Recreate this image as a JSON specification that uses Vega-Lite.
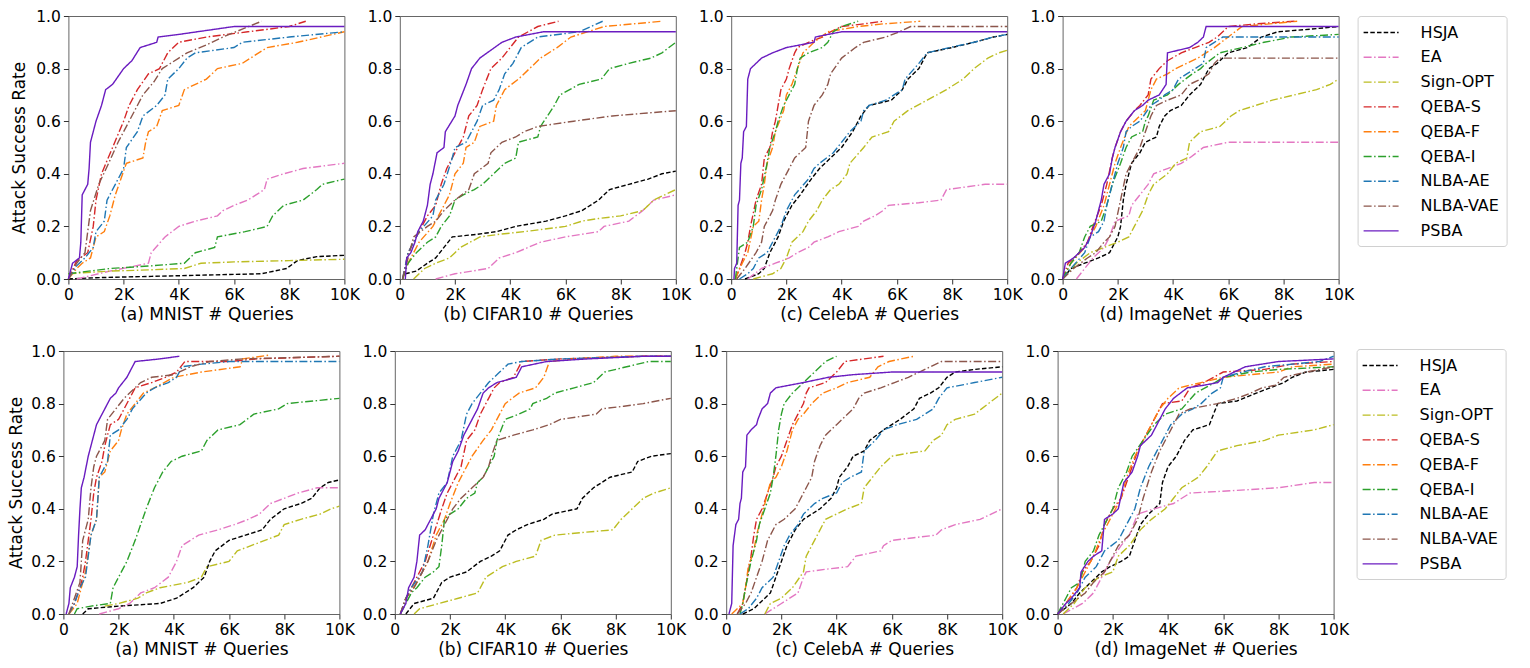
{
"$schema": "https://vega.github.io/schema/vega-lite/v6.json",
"background": "white",
"padding": {"left": 7, "top": 8, "right": 5, "bottom": 5},
"config": {
  "view": {"stroke": "#666", "strokeWidth": 1},
  "axis": {"labelFont": "DejaVu Sans", "labelFontSize": 15.5, "titleFont": "DejaVu Sans", "titleFontSize": 17, "titleFontWeight": "normal", "labelColor": "black", "titleColor": "black", "grid": false, "domain": false, "tickColor": "#333", "tickSize": 5, "labelPadding": 3, "labelFlush": false, "labelOverlap": false},
  "legend": {"title": null, "labelFont": "DejaVu Sans", "labelFontSize": 16, "labelColor": "black", "strokeColor": "#d0d0d0", "cornerRadius": 3, "fillColor": "white", "labelLimit": 300}
},
"datasets": {
"a1": [
{"m":"HSJA","q":0,"r":0},{"m":"HSJA","q":1,"r":0.005},{"m":"HSJA","q":3,"r":0.01},{"m":"HSJA","q":5,"r":0.015},{"m":"HSJA","q":7,"r":0.02},{"m":"HSJA","q":7.9,"r":0.04},{"m":"HSJA","q":8.3,"r":0.07},{"m":"HSJA","q":9,"r":0.085},{"m":"HSJA","q":10,"r":0.09},
{"m":"EA","q":0.3,"r":0},{"m":"EA","q":1.5,"r":0.03},{"m":"EA","q":2.9,"r":0.06},{"m":"EA","q":3,"r":0.1},{"m":"EA","q":3.5,"r":0.16},{"m":"EA","q":4,"r":0.2},{"m":"EA","q":4.6,"r":0.22},{"m":"EA","q":5.4,"r":0.24},{"m":"EA","q":5.6,"r":0.26},{"m":"EA","q":6,"r":0.28},{"m":"EA","q":6.5,"r":0.3},{"m":"EA","q":7.1,"r":0.34},{"m":"EA","q":7.2,"r":0.38},{"m":"EA","q":7.8,"r":0.4},{"m":"EA","q":8.5,"r":0.42},{"m":"EA","q":10,"r":0.44},
{"m":"Sign-OPT","q":0,"r":0.02},{"m":"Sign-OPT","q":1.5,"r":0.03},{"m":"Sign-OPT","q":3,"r":0.035},{"m":"Sign-OPT","q":4.2,"r":0.04},{"m":"Sign-OPT","q":4.8,"r":0.06},{"m":"Sign-OPT","q":6,"r":0.065},{"m":"Sign-OPT","q":8,"r":0.07},{"m":"Sign-OPT","q":10,"r":0.075},
{"m":"QEBA-S","q":0,"r":0},{"m":"QEBA-S","q":0.3,"r":0.07},{"m":"QEBA-S","q":0.7,"r":0.1},{"m":"QEBA-S","q":0.9,"r":0.2},{"m":"QEBA-S","q":1,"r":0.3},{"m":"QEBA-S","q":1.2,"r":0.4},{"m":"QEBA-S","q":1.6,"r":0.5},{"m":"QEBA-S","q":2,"r":0.6},{"m":"QEBA-S","q":2.2,"r":0.66},{"m":"QEBA-S","q":2.5,"r":0.72},{"m":"QEBA-S","q":2.9,"r":0.78},{"m":"QEBA-S","q":3.3,"r":0.8},{"m":"QEBA-S","q":3.6,"r":0.86},{"m":"QEBA-S","q":4,"r":0.9},{"m":"QEBA-S","q":5,"r":0.92},{"m":"QEBA-S","q":6.5,"r":0.94},{"m":"QEBA-S","q":8,"r":0.96},{"m":"QEBA-S","q":8.6,"r":0.98},
{"m":"QEBA-F","q":0,"r":0},{"m":"QEBA-F","q":0.3,"r":0.04},{"m":"QEBA-F","q":0.5,"r":0.06},{"m":"QEBA-F","q":0.8,"r":0.08},{"m":"QEBA-F","q":1,"r":0.16},{"m":"QEBA-F","q":1.3,"r":0.18},{"m":"QEBA-F","q":1.5,"r":0.24},{"m":"QEBA-F","q":1.7,"r":0.32},{"m":"QEBA-F","q":1.9,"r":0.38},{"m":"QEBA-F","q":2.1,"r":0.44},{"m":"QEBA-F","q":2.7,"r":0.46},{"m":"QEBA-F","q":2.8,"r":0.52},{"m":"QEBA-F","q":2.9,"r":0.56},{"m":"QEBA-F","q":3.2,"r":0.58},{"m":"QEBA-F","q":3.4,"r":0.64},{"m":"QEBA-F","q":4,"r":0.66},{"m":"QEBA-F","q":4.2,"r":0.72},{"m":"QEBA-F","q":4.6,"r":0.74},{"m":"QEBA-F","q":5,"r":0.76},{"m":"QEBA-F","q":5.4,"r":0.8},{"m":"QEBA-F","q":6.3,"r":0.82},{"m":"QEBA-F","q":6.6,"r":0.84},{"m":"QEBA-F","q":7.2,"r":0.88},{"m":"QEBA-F","q":8.3,"r":0.9},{"m":"QEBA-F","q":10,"r":0.94},
{"m":"QEBA-I","q":0,"r":0.02},{"m":"QEBA-I","q":1.5,"r":0.04},{"m":"QEBA-I","q":3,"r":0.05},{"m":"QEBA-I","q":4.2,"r":0.06},{"m":"QEBA-I","q":4.6,"r":0.1},{"m":"QEBA-I","q":5.3,"r":0.12},{"m":"QEBA-I","q":5.4,"r":0.16},{"m":"QEBA-I","q":6.4,"r":0.18},{"m":"QEBA-I","q":7.2,"r":0.2},{"m":"QEBA-I","q":7.4,"r":0.24},{"m":"QEBA-I","q":7.8,"r":0.28},{"m":"QEBA-I","q":8.5,"r":0.3},{"m":"QEBA-I","q":9,"r":0.34},{"m":"QEBA-I","q":9.2,"r":0.36},{"m":"QEBA-I","q":10,"r":0.38},
{"m":"NLBA-AE","q":0,"r":0},{"m":"NLBA-AE","q":0.3,"r":0.05},{"m":"NLBA-AE","q":0.6,"r":0.08},{"m":"NLBA-AE","q":0.9,"r":0.12},{"m":"NLBA-AE","q":1,"r":0.18},{"m":"NLBA-AE","q":1.3,"r":0.22},{"m":"NLBA-AE","q":1.4,"r":0.3},{"m":"NLBA-AE","q":1.7,"r":0.36},{"m":"NLBA-AE","q":2,"r":0.42},{"m":"NLBA-AE","q":2.1,"r":0.5},{"m":"NLBA-AE","q":2.5,"r":0.56},{"m":"NLBA-AE","q":2.7,"r":0.62},{"m":"NLBA-AE","q":3.2,"r":0.66},{"m":"NLBA-AE","q":3.5,"r":0.7},{"m":"NLBA-AE","q":3.6,"r":0.76},{"m":"NLBA-AE","q":4,"r":0.8},{"m":"NLBA-AE","q":4.3,"r":0.84},{"m":"NLBA-AE","q":4.6,"r":0.86},{"m":"NLBA-AE","q":6,"r":0.88},{"m":"NLBA-AE","q":6.3,"r":0.9},{"m":"NLBA-AE","q":8,"r":0.92},{"m":"NLBA-AE","q":10,"r":0.94},
{"m":"NLBA-VAE","q":0,"r":0},{"m":"NLBA-VAE","q":0.3,"r":0.06},{"m":"NLBA-VAE","q":0.6,"r":0.1},{"m":"NLBA-VAE","q":0.8,"r":0.26},{"m":"NLBA-VAE","q":1.1,"r":0.36},{"m":"NLBA-VAE","q":1.5,"r":0.45},{"m":"NLBA-VAE","q":1.8,"r":0.52},{"m":"NLBA-VAE","q":2.2,"r":0.6},{"m":"NLBA-VAE","q":2.7,"r":0.7},{"m":"NLBA-VAE","q":3.1,"r":0.75},{"m":"NLBA-VAE","q":3.4,"r":0.8},{"m":"NLBA-VAE","q":4,"r":0.84},{"m":"NLBA-VAE","q":4.3,"r":0.86},{"m":"NLBA-VAE","q":5,"r":0.89},{"m":"NLBA-VAE","q":5.6,"r":0.92},{"m":"NLBA-VAE","q":6.3,"r":0.95},{"m":"NLBA-VAE","q":7,"r":0.98},
{"m":"PSBA","q":0,"r":0},{"m":"PSBA","q":0.15,"r":0.06},{"m":"PSBA","q":0.4,"r":0.08},{"m":"PSBA","q":0.45,"r":0.14},{"m":"PSBA","q":0.5,"r":0.32},{"m":"PSBA","q":0.7,"r":0.36},{"m":"PSBA","q":0.75,"r":0.42},{"m":"PSBA","q":0.8,"r":0.52},{"m":"PSBA","q":0.9,"r":0.56},{"m":"PSBA","q":1,"r":0.6},{"m":"PSBA","q":1.2,"r":0.66},{"m":"PSBA","q":1.35,"r":0.72},{"m":"PSBA","q":1.6,"r":0.74},{"m":"PSBA","q":1.8,"r":0.77},{"m":"PSBA","q":2,"r":0.8},{"m":"PSBA","q":2.3,"r":0.83},{"m":"PSBA","q":2.6,"r":0.88},{"m":"PSBA","q":3.2,"r":0.9},{"m":"PSBA","q":3.25,"r":0.92},{"m":"PSBA","q":4,"r":0.93},{"m":"PSBA","q":6,"r":0.96},{"m":"PSBA","q":10,"r":0.96}
],
"b1": [
{"m":"HSJA","q":0.2,"r":0.02},{"m":"HSJA","q":0.6,"r":0.03},{"m":"HSJA","q":1,"r":0.06},{"m":"HSJA","q":1.3,"r":0.08},{"m":"HSJA","q":1.6,"r":0.12},{"m":"HSJA","q":1.9,"r":0.16},{"m":"HSJA","q":2.8,"r":0.17},{"m":"HSJA","q":3.5,"r":0.18},{"m":"HSJA","q":4.2,"r":0.2},{"m":"HSJA","q":5.3,"r":0.22},{"m":"HSJA","q":6,"r":0.24},{"m":"HSJA","q":6.6,"r":0.26},{"m":"HSJA","q":7.2,"r":0.3},{"m":"HSJA","q":7.6,"r":0.34},{"m":"HSJA","q":8.3,"r":0.36},{"m":"HSJA","q":9,"r":0.38},{"m":"HSJA","q":9.5,"r":0.4},{"m":"HSJA","q":10,"r":0.41},
{"m":"EA","q":1.3,"r":0},{"m":"EA","q":2,"r":0.02},{"m":"EA","q":3.2,"r":0.04},{"m":"EA","q":3.6,"r":0.08},{"m":"EA","q":4.2,"r":0.1},{"m":"EA","q":5.1,"r":0.14},{"m":"EA","q":6,"r":0.16},{"m":"EA","q":7.2,"r":0.18},{"m":"EA","q":7.4,"r":0.2},{"m":"EA","q":8.3,"r":0.22},{"m":"EA","q":8.8,"r":0.26},{"m":"EA","q":9.2,"r":0.3},{"m":"EA","q":10,"r":0.32},
{"m":"Sign-OPT","q":0.5,"r":0},{"m":"Sign-OPT","q":0.9,"r":0.04},{"m":"Sign-OPT","q":1.3,"r":0.06},{"m":"Sign-OPT","q":1.8,"r":0.08},{"m":"Sign-OPT","q":2,"r":0.1},{"m":"Sign-OPT","q":2.2,"r":0.12},{"m":"Sign-OPT","q":2.9,"r":0.16},{"m":"Sign-OPT","q":3.6,"r":0.17},{"m":"Sign-OPT","q":4.5,"r":0.18},{"m":"Sign-OPT","q":6,"r":0.2},{"m":"Sign-OPT","q":6.6,"r":0.22},{"m":"Sign-OPT","q":7.2,"r":0.23},{"m":"Sign-OPT","q":8,"r":0.24},{"m":"Sign-OPT","q":8.8,"r":0.26},{"m":"Sign-OPT","q":9.2,"r":0.3},{"m":"Sign-OPT","q":9.6,"r":0.32},{"m":"Sign-OPT","q":10,"r":0.34},
{"m":"QEBA-S","q":0.1,"r":0},{"m":"QEBA-S","q":0.3,"r":0.1},{"m":"QEBA-S","q":0.8,"r":0.2},{"m":"QEBA-S","q":1,"r":0.24},{"m":"QEBA-S","q":1.3,"r":0.28},{"m":"QEBA-S","q":1.5,"r":0.36},{"m":"QEBA-S","q":1.7,"r":0.42},{"m":"QEBA-S","q":2.1,"r":0.5},{"m":"QEBA-S","q":2.3,"r":0.54},{"m":"QEBA-S","q":2.5,"r":0.62},{"m":"QEBA-S","q":2.8,"r":0.66},{"m":"QEBA-S","q":3,"r":0.72},{"m":"QEBA-S","q":3.3,"r":0.8},{"m":"QEBA-S","q":3.7,"r":0.84},{"m":"QEBA-S","q":4,"r":0.88},{"m":"QEBA-S","q":4.3,"r":0.92},{"m":"QEBA-S","q":5,"r":0.96},{"m":"QEBA-S","q":5.75,"r":0.98},
{"m":"QEBA-F","q":0.1,"r":0},{"m":"QEBA-F","q":0.3,"r":0.06},{"m":"QEBA-F","q":0.7,"r":0.14},{"m":"QEBA-F","q":1.2,"r":0.2},{"m":"QEBA-F","q":1.5,"r":0.26},{"m":"QEBA-F","q":1.8,"r":0.32},{"m":"QEBA-F","q":2,"r":0.4},{"m":"QEBA-F","q":2.3,"r":0.44},{"m":"QEBA-F","q":2.4,"r":0.5},{"m":"QEBA-F","q":2.7,"r":0.52},{"m":"QEBA-F","q":2.9,"r":0.58},{"m":"QEBA-F","q":3.4,"r":0.6},{"m":"QEBA-F","q":3.5,"r":0.66},{"m":"QEBA-F","q":3.8,"r":0.72},{"m":"QEBA-F","q":4.3,"r":0.76},{"m":"QEBA-F","q":4.7,"r":0.8},{"m":"QEBA-F","q":5.1,"r":0.84},{"m":"QEBA-F","q":5.7,"r":0.88},{"m":"QEBA-F","q":6.2,"r":0.92},{"m":"QEBA-F","q":7.4,"r":0.96},{"m":"QEBA-F","q":9.5,"r":0.98},
{"m":"QEBA-I","q":0.1,"r":0},{"m":"QEBA-I","q":0.3,"r":0.06},{"m":"QEBA-I","q":0.6,"r":0.1},{"m":"QEBA-I","q":0.8,"r":0.12},{"m":"QEBA-I","q":1,"r":0.14},{"m":"QEBA-I","q":1.3,"r":0.16},{"m":"QEBA-I","q":1.5,"r":0.2},{"m":"QEBA-I","q":1.8,"r":0.24},{"m":"QEBA-I","q":2,"r":0.3},{"m":"QEBA-I","q":2.3,"r":0.32},{"m":"QEBA-I","q":2.7,"r":0.34},{"m":"QEBA-I","q":3,"r":0.36},{"m":"QEBA-I","q":3.4,"r":0.4},{"m":"QEBA-I","q":3.8,"r":0.44},{"m":"QEBA-I","q":4.2,"r":0.46},{"m":"QEBA-I","q":4.3,"r":0.52},{"m":"QEBA-I","q":5,"r":0.54},{"m":"QEBA-I","q":5.1,"r":0.58},{"m":"QEBA-I","q":5.6,"r":0.66},{"m":"QEBA-I","q":5.8,"r":0.7},{"m":"QEBA-I","q":6.5,"r":0.74},{"m":"QEBA-I","q":7.3,"r":0.76},{"m":"QEBA-I","q":7.6,"r":0.8},{"m":"QEBA-I","q":8.3,"r":0.82},{"m":"QEBA-I","q":9.1,"r":0.84},{"m":"QEBA-I","q":9.5,"r":0.86},{"m":"QEBA-I","q":10,"r":0.9},
{"m":"NLBA-AE","q":0.1,"r":0},{"m":"NLBA-AE","q":0.3,"r":0.1},{"m":"NLBA-AE","q":0.7,"r":0.18},{"m":"NLBA-AE","q":1.2,"r":0.24},{"m":"NLBA-AE","q":1.3,"r":0.3},{"m":"NLBA-AE","q":1.6,"r":0.36},{"m":"NLBA-AE","q":1.9,"r":0.46},{"m":"NLBA-AE","q":2,"r":0.5},{"m":"NLBA-AE","q":2.4,"r":0.52},{"m":"NLBA-AE","q":2.6,"r":0.56},{"m":"NLBA-AE","q":2.8,"r":0.6},{"m":"NLBA-AE","q":3,"r":0.66},{"m":"NLBA-AE","q":3.4,"r":0.68},{"m":"NLBA-AE","q":3.6,"r":0.72},{"m":"NLBA-AE","q":3.8,"r":0.78},{"m":"NLBA-AE","q":4.1,"r":0.82},{"m":"NLBA-AE","q":4.4,"r":0.88},{"m":"NLBA-AE","q":5,"r":0.92},{"m":"NLBA-AE","q":6.5,"r":0.94},{"m":"NLBA-AE","q":7.35,"r":0.98},
{"m":"NLBA-VAE","q":0.1,"r":0},{"m":"NLBA-VAE","q":0.3,"r":0.08},{"m":"NLBA-VAE","q":0.5,"r":0.16},{"m":"NLBA-VAE","q":1,"r":0.2},{"m":"NLBA-VAE","q":1.3,"r":0.22},{"m":"NLBA-VAE","q":1.6,"r":0.26},{"m":"NLBA-VAE","q":2,"r":0.3},{"m":"NLBA-VAE","q":2.5,"r":0.34},{"m":"NLBA-VAE","q":2.7,"r":0.4},{"m":"NLBA-VAE","q":3.2,"r":0.44},{"m":"NLBA-VAE","q":3.3,"r":0.48},{"m":"NLBA-VAE","q":3.7,"r":0.52},{"m":"NLBA-VAE","q":4.2,"r":0.54},{"m":"NLBA-VAE","q":4.5,"r":0.56},{"m":"NLBA-VAE","q":5,"r":0.58},{"m":"NLBA-VAE","q":6.3,"r":0.6},{"m":"NLBA-VAE","q":7.7,"r":0.62},{"m":"NLBA-VAE","q":10,"r":0.64},
{"m":"PSBA","q":0.2,"r":0},{"m":"PSBA","q":0.25,"r":0.08},{"m":"PSBA","q":0.4,"r":0.1},{"m":"PSBA","q":0.55,"r":0.14},{"m":"PSBA","q":0.65,"r":0.18},{"m":"PSBA","q":0.85,"r":0.22},{"m":"PSBA","q":1,"r":0.28},{"m":"PSBA","q":1.1,"r":0.36},{"m":"PSBA","q":1.2,"r":0.4},{"m":"PSBA","q":1.35,"r":0.48},{"m":"PSBA","q":1.6,"r":0.5},{"m":"PSBA","q":1.65,"r":0.56},{"m":"PSBA","q":2,"r":0.62},{"m":"PSBA","q":2.1,"r":0.66},{"m":"PSBA","q":2.4,"r":0.74},{"m":"PSBA","q":2.6,"r":0.8},{"m":"PSBA","q":2.9,"r":0.84},{"m":"PSBA","q":3.7,"r":0.9},{"m":"PSBA","q":4.2,"r":0.92},{"m":"PSBA","q":5.2,"r":0.94},{"m":"PSBA","q":10,"r":0.94}
],
"c1": [
{"m":"HSJA","q":0.5,"r":0},{"m":"HSJA","q":1,"r":0.02},{"m":"HSJA","q":1.2,"r":0.04},{"m":"HSJA","q":1.4,"r":0.1},{"m":"HSJA","q":1.7,"r":0.16},{"m":"HSJA","q":1.9,"r":0.22},{"m":"HSJA","q":2.2,"r":0.28},{"m":"HSJA","q":2.5,"r":0.32},{"m":"HSJA","q":2.9,"r":0.38},{"m":"HSJA","q":3.2,"r":0.42},{"m":"HSJA","q":3.6,"r":0.46},{"m":"HSJA","q":4,"r":0.5},{"m":"HSJA","q":4.4,"r":0.56},{"m":"HSJA","q":4.7,"r":0.62},{"m":"HSJA","q":5,"r":0.66},{"m":"HSJA","q":5.8,"r":0.68},{"m":"HSJA","q":6.2,"r":0.72},{"m":"HSJA","q":6.4,"r":0.76},{"m":"HSJA","q":6.8,"r":0.8},{"m":"HSJA","q":7.1,"r":0.86},{"m":"HSJA","q":8,"r":0.88},{"m":"HSJA","q":8.8,"r":0.9},{"m":"HSJA","q":9.5,"r":0.92},{"m":"HSJA","q":10,"r":0.93},
{"m":"EA","q":0.6,"r":0},{"m":"EA","q":1.1,"r":0.04},{"m":"EA","q":1.6,"r":0.06},{"m":"EA","q":2.1,"r":0.08},{"m":"EA","q":2.4,"r":0.1},{"m":"EA","q":2.8,"r":0.12},{"m":"EA","q":3,"r":0.14},{"m":"EA","q":3.5,"r":0.16},{"m":"EA","q":3.9,"r":0.18},{"m":"EA","q":4.6,"r":0.2},{"m":"EA","q":4.8,"r":0.22},{"m":"EA","q":5.2,"r":0.24},{"m":"EA","q":5.5,"r":0.26},{"m":"EA","q":5.7,"r":0.28},{"m":"EA","q":6.8,"r":0.29},{"m":"EA","q":7.6,"r":0.3},{"m":"EA","q":7.8,"r":0.34},{"m":"EA","q":8.5,"r":0.35},{"m":"EA","q":9.2,"r":0.36},{"m":"EA","q":10,"r":0.36},
{"m":"Sign-OPT","q":0.8,"r":0},{"m":"Sign-OPT","q":1.5,"r":0.02},{"m":"Sign-OPT","q":1.8,"r":0.04},{"m":"Sign-OPT","q":2,"r":0.08},{"m":"Sign-OPT","q":2.2,"r":0.14},{"m":"Sign-OPT","q":2.6,"r":0.18},{"m":"Sign-OPT","q":2.8,"r":0.22},{"m":"Sign-OPT","q":3.1,"r":0.26},{"m":"Sign-OPT","q":3.3,"r":0.3},{"m":"Sign-OPT","q":3.6,"r":0.34},{"m":"Sign-OPT","q":3.9,"r":0.36},{"m":"Sign-OPT","q":4.2,"r":0.4},{"m":"Sign-OPT","q":4.3,"r":0.44},{"m":"Sign-OPT","q":4.8,"r":0.5},{"m":"Sign-OPT","q":5.1,"r":0.54},{"m":"Sign-OPT","q":5.7,"r":0.56},{"m":"Sign-OPT","q":5.9,"r":0.6},{"m":"Sign-OPT","q":6.4,"r":0.64},{"m":"Sign-OPT","q":7.1,"r":0.68},{"m":"Sign-OPT","q":7.8,"r":0.72},{"m":"Sign-OPT","q":8.4,"r":0.76},{"m":"Sign-OPT","q":8.8,"r":0.8},{"m":"Sign-OPT","q":9.3,"r":0.84},{"m":"Sign-OPT","q":9.7,"r":0.86},{"m":"Sign-OPT","q":10,"r":0.87},
{"m":"QEBA-S","q":0.15,"r":0},{"m":"QEBA-S","q":0.3,"r":0.04},{"m":"QEBA-S","q":0.5,"r":0.1},{"m":"QEBA-S","q":0.6,"r":0.14},{"m":"QEBA-S","q":0.7,"r":0.2},{"m":"QEBA-S","q":0.9,"r":0.3},{"m":"QEBA-S","q":1.1,"r":0.36},{"m":"QEBA-S","q":1.2,"r":0.46},{"m":"QEBA-S","q":1.4,"r":0.5},{"m":"QEBA-S","q":1.5,"r":0.56},{"m":"QEBA-S","q":1.6,"r":0.6},{"m":"QEBA-S","q":1.7,"r":0.66},{"m":"QEBA-S","q":1.8,"r":0.72},{"m":"QEBA-S","q":2,"r":0.76},{"m":"QEBA-S","q":2.1,"r":0.8},{"m":"QEBA-S","q":2.3,"r":0.86},{"m":"QEBA-S","q":2.4,"r":0.88},{"m":"QEBA-S","q":2.8,"r":0.9},{"m":"QEBA-S","q":3.3,"r":0.92},{"m":"QEBA-S","q":3.6,"r":0.94},{"m":"QEBA-S","q":4,"r":0.96},{"m":"QEBA-S","q":4.8,"r":0.97},{"m":"QEBA-S","q":5.5,"r":0.98},
{"m":"QEBA-F","q":0.15,"r":0},{"m":"QEBA-F","q":0.4,"r":0.06},{"m":"QEBA-F","q":0.6,"r":0.1},{"m":"QEBA-F","q":0.8,"r":0.2},{"m":"QEBA-F","q":1,"r":0.22},{"m":"QEBA-F","q":1.1,"r":0.3},{"m":"QEBA-F","q":1.2,"r":0.36},{"m":"QEBA-F","q":1.3,"r":0.44},{"m":"QEBA-F","q":1.5,"r":0.5},{"m":"QEBA-F","q":1.6,"r":0.56},{"m":"QEBA-F","q":1.9,"r":0.64},{"m":"QEBA-F","q":2,"r":0.7},{"m":"QEBA-F","q":2.2,"r":0.74},{"m":"QEBA-F","q":2.4,"r":0.8},{"m":"QEBA-F","q":2.6,"r":0.86},{"m":"QEBA-F","q":3,"r":0.9},{"m":"QEBA-F","q":3.5,"r":0.94},{"m":"QEBA-F","q":4.6,"r":0.96},{"m":"QEBA-F","q":5.5,"r":0.97},{"m":"QEBA-F","q":6.85,"r":0.98},
{"m":"QEBA-I","q":0.15,"r":0},{"m":"QEBA-I","q":0.3,"r":0.12},{"m":"QEBA-I","q":0.6,"r":0.14},{"m":"QEBA-I","q":0.8,"r":0.2},{"m":"QEBA-I","q":0.9,"r":0.28},{"m":"QEBA-I","q":1.1,"r":0.34},{"m":"QEBA-I","q":1.3,"r":0.44},{"m":"QEBA-I","q":1.4,"r":0.5},{"m":"QEBA-I","q":1.6,"r":0.56},{"m":"QEBA-I","q":1.7,"r":0.6},{"m":"QEBA-I","q":1.9,"r":0.66},{"m":"QEBA-I","q":2.1,"r":0.7},{"m":"QEBA-I","q":2.3,"r":0.74},{"m":"QEBA-I","q":2.4,"r":0.8},{"m":"QEBA-I","q":2.5,"r":0.84},{"m":"QEBA-I","q":2.8,"r":0.86},{"m":"QEBA-I","q":3.3,"r":0.88},{"m":"QEBA-I","q":3.5,"r":0.9},{"m":"QEBA-I","q":3.7,"r":0.94},{"m":"QEBA-I","q":4,"r":0.96},{"m":"QEBA-I","q":4.6,"r":0.98},
{"m":"NLBA-AE","q":0.3,"r":0},{"m":"NLBA-AE","q":0.6,"r":0.02},{"m":"NLBA-AE","q":0.8,"r":0.04},{"m":"NLBA-AE","q":1,"r":0.08},{"m":"NLBA-AE","q":1.3,"r":0.1},{"m":"NLBA-AE","q":1.6,"r":0.16},{"m":"NLBA-AE","q":1.8,"r":0.2},{"m":"NLBA-AE","q":2,"r":0.26},{"m":"NLBA-AE","q":2.3,"r":0.32},{"m":"NLBA-AE","q":2.8,"r":0.38},{"m":"NLBA-AE","q":3,"r":0.42},{"m":"NLBA-AE","q":3.2,"r":0.44},{"m":"NLBA-AE","q":3.7,"r":0.48},{"m":"NLBA-AE","q":4,"r":0.52},{"m":"NLBA-AE","q":4.3,"r":0.56},{"m":"NLBA-AE","q":4.7,"r":0.6},{"m":"NLBA-AE","q":4.8,"r":0.64},{"m":"NLBA-AE","q":5,"r":0.66},{"m":"NLBA-AE","q":5.6,"r":0.68},{"m":"NLBA-AE","q":5.9,"r":0.7},{"m":"NLBA-AE","q":6.2,"r":0.72},{"m":"NLBA-AE","q":6.3,"r":0.76},{"m":"NLBA-AE","q":6.8,"r":0.82},{"m":"NLBA-AE","q":7.1,"r":0.86},{"m":"NLBA-AE","q":7.9,"r":0.88},{"m":"NLBA-AE","q":8.8,"r":0.9},{"m":"NLBA-AE","q":9.5,"r":0.92},{"m":"NLBA-AE","q":10,"r":0.93},
{"m":"NLBA-VAE","q":0.2,"r":0},{"m":"NLBA-VAE","q":0.5,"r":0.04},{"m":"NLBA-VAE","q":0.9,"r":0.1},{"m":"NLBA-VAE","q":1.1,"r":0.14},{"m":"NLBA-VAE","q":1.2,"r":0.2},{"m":"NLBA-VAE","q":1.5,"r":0.26},{"m":"NLBA-VAE","q":1.6,"r":0.3},{"m":"NLBA-VAE","q":1.8,"r":0.36},{"m":"NLBA-VAE","q":2,"r":0.4},{"m":"NLBA-VAE","q":2.3,"r":0.46},{"m":"NLBA-VAE","q":2.7,"r":0.5},{"m":"NLBA-VAE","q":2.8,"r":0.6},{"m":"NLBA-VAE","q":3,"r":0.66},{"m":"NLBA-VAE","q":3.3,"r":0.7},{"m":"NLBA-VAE","q":3.5,"r":0.74},{"m":"NLBA-VAE","q":3.6,"r":0.78},{"m":"NLBA-VAE","q":4,"r":0.84},{"m":"NLBA-VAE","q":4.5,"r":0.88},{"m":"NLBA-VAE","q":4.8,"r":0.9},{"m":"NLBA-VAE","q":5.6,"r":0.92},{"m":"NLBA-VAE","q":6.1,"r":0.94},{"m":"NLBA-VAE","q":6.5,"r":0.96},{"m":"NLBA-VAE","q":10,"r":0.96},
{"m":"PSBA","q":0.1,"r":0},{"m":"PSBA","q":0.12,"r":0.04},{"m":"PSBA","q":0.2,"r":0.06},{"m":"PSBA","q":0.25,"r":0.28},{"m":"PSBA","q":0.3,"r":0.3},{"m":"PSBA","q":0.35,"r":0.44},{"m":"PSBA","q":0.4,"r":0.46},{"m":"PSBA","q":0.45,"r":0.56},{"m":"PSBA","q":0.55,"r":0.58},{"m":"PSBA","q":0.6,"r":0.76},{"m":"PSBA","q":0.7,"r":0.8},{"m":"PSBA","q":0.9,"r":0.82},{"m":"PSBA","q":1.1,"r":0.84},{"m":"PSBA","q":1.5,"r":0.86},{"m":"PSBA","q":2,"r":0.88},{"m":"PSBA","q":2.5,"r":0.89},{"m":"PSBA","q":3,"r":0.9},{"m":"PSBA","q":3.05,"r":0.92},{"m":"PSBA","q":3.5,"r":0.93},{"m":"PSBA","q":4,"r":0.94},{"m":"PSBA","q":10,"r":0.94}
],
"d1": [
{"m":"HSJA","q":0,"r":0},{"m":"HSJA","q":0.3,"r":0.04},{"m":"HSJA","q":0.8,"r":0.06},{"m":"HSJA","q":1.3,"r":0.08},{"m":"HSJA","q":1.7,"r":0.1},{"m":"HSJA","q":2,"r":0.16},{"m":"HSJA","q":2.1,"r":0.2},{"m":"HSJA","q":2.2,"r":0.3},{"m":"HSJA","q":2.3,"r":0.36},{"m":"HSJA","q":2.5,"r":0.44},{"m":"HSJA","q":2.8,"r":0.48},{"m":"HSJA","q":3,"r":0.52},{"m":"HSJA","q":3.4,"r":0.54},{"m":"HSJA","q":3.5,"r":0.58},{"m":"HSJA","q":3.7,"r":0.62},{"m":"HSJA","q":3.9,"r":0.64},{"m":"HSJA","q":4.3,"r":0.66},{"m":"HSJA","q":4.6,"r":0.7},{"m":"HSJA","q":5,"r":0.74},{"m":"HSJA","q":5.3,"r":0.8},{"m":"HSJA","q":5.6,"r":0.82},{"m":"HSJA","q":6,"r":0.86},{"m":"HSJA","q":6.7,"r":0.88},{"m":"HSJA","q":7.2,"r":0.92},{"m":"HSJA","q":7.8,"r":0.94},{"m":"HSJA","q":9,"r":0.95},{"m":"HSJA","q":10,"r":0.96},
{"m":"EA","q":0.5,"r":0},{"m":"EA","q":0.8,"r":0.04},{"m":"EA","q":1.1,"r":0.08},{"m":"EA","q":1.5,"r":0.12},{"m":"EA","q":1.7,"r":0.16},{"m":"EA","q":1.9,"r":0.22},{"m":"EA","q":2.4,"r":0.24},{"m":"EA","q":2.5,"r":0.28},{"m":"EA","q":2.8,"r":0.32},{"m":"EA","q":3.1,"r":0.36},{"m":"EA","q":3.3,"r":0.4},{"m":"EA","q":3.8,"r":0.42},{"m":"EA","q":4.3,"r":0.44},{"m":"EA","q":4.6,"r":0.46},{"m":"EA","q":5.1,"r":0.5},{"m":"EA","q":6,"r":0.52},{"m":"EA","q":10,"r":0.52},
{"m":"Sign-OPT","q":0,"r":0},{"m":"Sign-OPT","q":0.5,"r":0.06},{"m":"Sign-OPT","q":1,"r":0.1},{"m":"Sign-OPT","q":1.5,"r":0.12},{"m":"Sign-OPT","q":2,"r":0.14},{"m":"Sign-OPT","q":2.4,"r":0.16},{"m":"Sign-OPT","q":2.6,"r":0.2},{"m":"Sign-OPT","q":2.9,"r":0.26},{"m":"Sign-OPT","q":3.1,"r":0.32},{"m":"Sign-OPT","q":3.3,"r":0.36},{"m":"Sign-OPT","q":3.8,"r":0.4},{"m":"Sign-OPT","q":4.1,"r":0.44},{"m":"Sign-OPT","q":4.5,"r":0.46},{"m":"Sign-OPT","q":4.6,"r":0.52},{"m":"Sign-OPT","q":5,"r":0.56},{"m":"Sign-OPT","q":5.7,"r":0.58},{"m":"Sign-OPT","q":6.1,"r":0.62},{"m":"Sign-OPT","q":6.4,"r":0.64},{"m":"Sign-OPT","q":7,"r":0.66},{"m":"Sign-OPT","q":7.6,"r":0.68},{"m":"Sign-OPT","q":8.4,"r":0.7},{"m":"Sign-OPT","q":9.2,"r":0.72},{"m":"Sign-OPT","q":9.7,"r":0.74},{"m":"Sign-OPT","q":10,"r":0.76},
{"m":"QEBA-S","q":0,"r":0},{"m":"QEBA-S","q":0.2,"r":0.06},{"m":"QEBA-S","q":0.6,"r":0.1},{"m":"QEBA-S","q":0.9,"r":0.14},{"m":"QEBA-S","q":1.1,"r":0.2},{"m":"QEBA-S","q":1.4,"r":0.28},{"m":"QEBA-S","q":1.6,"r":0.36},{"m":"QEBA-S","q":1.8,"r":0.46},{"m":"QEBA-S","q":1.9,"r":0.5},{"m":"QEBA-S","q":2.1,"r":0.56},{"m":"QEBA-S","q":2.3,"r":0.6},{"m":"QEBA-S","q":2.6,"r":0.64},{"m":"QEBA-S","q":2.8,"r":0.66},{"m":"QEBA-S","q":3.1,"r":0.7},{"m":"QEBA-S","q":3.2,"r":0.76},{"m":"QEBA-S","q":3.5,"r":0.8},{"m":"QEBA-S","q":3.8,"r":0.83},{"m":"QEBA-S","q":4.3,"r":0.86},{"m":"QEBA-S","q":4.8,"r":0.88},{"m":"QEBA-S","q":5.3,"r":0.9},{"m":"QEBA-S","q":5.6,"r":0.92},{"m":"QEBA-S","q":6,"r":0.96},{"m":"QEBA-S","q":7,"r":0.97},{"m":"QEBA-S","q":8.4,"r":0.98},
{"m":"QEBA-F","q":0,"r":0},{"m":"QEBA-F","q":0.3,"r":0.06},{"m":"QEBA-F","q":0.8,"r":0.12},{"m":"QEBA-F","q":1,"r":0.16},{"m":"QEBA-F","q":1.2,"r":0.2},{"m":"QEBA-F","q":1.5,"r":0.28},{"m":"QEBA-F","q":1.7,"r":0.36},{"m":"QEBA-F","q":1.9,"r":0.44},{"m":"QEBA-F","q":2.1,"r":0.5},{"m":"QEBA-F","q":2.4,"r":0.58},{"m":"QEBA-F","q":2.6,"r":0.6},{"m":"QEBA-F","q":3,"r":0.64},{"m":"QEBA-F","q":3.2,"r":0.72},{"m":"QEBA-F","q":3.4,"r":0.76},{"m":"QEBA-F","q":3.8,"r":0.78},{"m":"QEBA-F","q":4.1,"r":0.8},{"m":"QEBA-F","q":4.5,"r":0.82},{"m":"QEBA-F","q":4.9,"r":0.84},{"m":"QEBA-F","q":5.2,"r":0.86},{"m":"QEBA-F","q":5.5,"r":0.88},{"m":"QEBA-F","q":6,"r":0.92},{"m":"QEBA-F","q":6.5,"r":0.96},{"m":"QEBA-F","q":7.5,"r":0.97},{"m":"QEBA-F","q":8.5,"r":0.98},
{"m":"QEBA-I","q":0,"r":0},{"m":"QEBA-I","q":0.3,"r":0.06},{"m":"QEBA-I","q":0.6,"r":0.1},{"m":"QEBA-I","q":0.8,"r":0.16},{"m":"QEBA-I","q":1,"r":0.2},{"m":"QEBA-I","q":1.4,"r":0.22},{"m":"QEBA-I","q":1.6,"r":0.28},{"m":"QEBA-I","q":1.8,"r":0.36},{"m":"QEBA-I","q":2.1,"r":0.44},{"m":"QEBA-I","q":2.3,"r":0.5},{"m":"QEBA-I","q":2.5,"r":0.54},{"m":"QEBA-I","q":2.9,"r":0.56},{"m":"QEBA-I","q":3,"r":0.6},{"m":"QEBA-I","q":3.1,"r":0.62},{"m":"QEBA-I","q":3.3,"r":0.68},{"m":"QEBA-I","q":3.8,"r":0.7},{"m":"QEBA-I","q":4.2,"r":0.74},{"m":"QEBA-I","q":4.7,"r":0.78},{"m":"QEBA-I","q":5,"r":0.8},{"m":"QEBA-I","q":5.2,"r":0.82},{"m":"QEBA-I","q":5.7,"r":0.86},{"m":"QEBA-I","q":6.5,"r":0.88},{"m":"QEBA-I","q":7.3,"r":0.9},{"m":"QEBA-I","q":8.3,"r":0.92},{"m":"QEBA-I","q":10,"r":0.93},
{"m":"NLBA-AE","q":0,"r":0},{"m":"NLBA-AE","q":0.3,"r":0.04},{"m":"NLBA-AE","q":0.8,"r":0.1},{"m":"NLBA-AE","q":1,"r":0.16},{"m":"NLBA-AE","q":1.3,"r":0.18},{"m":"NLBA-AE","q":1.5,"r":0.22},{"m":"NLBA-AE","q":1.6,"r":0.28},{"m":"NLBA-AE","q":1.8,"r":0.36},{"m":"NLBA-AE","q":2,"r":0.44},{"m":"NLBA-AE","q":2.2,"r":0.5},{"m":"NLBA-AE","q":2.3,"r":0.56},{"m":"NLBA-AE","q":2.5,"r":0.58},{"m":"NLBA-AE","q":2.8,"r":0.6},{"m":"NLBA-AE","q":3.2,"r":0.66},{"m":"NLBA-AE","q":3.5,"r":0.68},{"m":"NLBA-AE","q":3.7,"r":0.7},{"m":"NLBA-AE","q":4,"r":0.72},{"m":"NLBA-AE","q":4.2,"r":0.76},{"m":"NLBA-AE","q":4.5,"r":0.78},{"m":"NLBA-AE","q":4.8,"r":0.8},{"m":"NLBA-AE","q":5.1,"r":0.82},{"m":"NLBA-AE","q":5.2,"r":0.88},{"m":"NLBA-AE","q":5.5,"r":0.9},{"m":"NLBA-AE","q":5.8,"r":0.92},{"m":"NLBA-AE","q":10,"r":0.92},
{"m":"NLBA-VAE","q":0,"r":0},{"m":"NLBA-VAE","q":0.4,"r":0.04},{"m":"NLBA-VAE","q":0.9,"r":0.08},{"m":"NLBA-VAE","q":1.2,"r":0.1},{"m":"NLBA-VAE","q":1.5,"r":0.14},{"m":"NLBA-VAE","q":1.7,"r":0.16},{"m":"NLBA-VAE","q":1.9,"r":0.2},{"m":"NLBA-VAE","q":2.1,"r":0.3},{"m":"NLBA-VAE","q":2.3,"r":0.4},{"m":"NLBA-VAE","q":2.5,"r":0.44},{"m":"NLBA-VAE","q":2.8,"r":0.5},{"m":"NLBA-VAE","q":3,"r":0.56},{"m":"NLBA-VAE","q":3.2,"r":0.62},{"m":"NLBA-VAE","q":3.4,"r":0.66},{"m":"NLBA-VAE","q":3.8,"r":0.68},{"m":"NLBA-VAE","q":4.3,"r":0.7},{"m":"NLBA-VAE","q":4.6,"r":0.74},{"m":"NLBA-VAE","q":5,"r":0.76},{"m":"NLBA-VAE","q":5.3,"r":0.78},{"m":"NLBA-VAE","q":5.5,"r":0.82},{"m":"NLBA-VAE","q":5.7,"r":0.84},{"m":"NLBA-VAE","q":10,"r":0.84},
{"m":"PSBA","q":0,"r":0},{"m":"PSBA","q":0.1,"r":0.06},{"m":"PSBA","q":0.4,"r":0.08},{"m":"PSBA","q":0.6,"r":0.1},{"m":"PSBA","q":0.8,"r":0.12},{"m":"PSBA","q":1,"r":0.16},{"m":"PSBA","q":1.2,"r":0.22},{"m":"PSBA","q":1.3,"r":0.26},{"m":"PSBA","q":1.4,"r":0.3},{"m":"PSBA","q":1.5,"r":0.36},{"m":"PSBA","q":1.7,"r":0.4},{"m":"PSBA","q":1.8,"r":0.46},{"m":"PSBA","q":1.9,"r":0.5},{"m":"PSBA","q":2.1,"r":0.56},{"m":"PSBA","q":2.3,"r":0.6},{"m":"PSBA","q":2.6,"r":0.64},{"m":"PSBA","q":2.9,"r":0.66},{"m":"PSBA","q":3.1,"r":0.68},{"m":"PSBA","q":3.5,"r":0.7},{"m":"PSBA","q":3.75,"r":0.74},{"m":"PSBA","q":3.8,"r":0.86},{"m":"PSBA","q":4.2,"r":0.87},{"m":"PSBA","q":4.6,"r":0.88},{"m":"PSBA","q":4.9,"r":0.9},{"m":"PSBA","q":5.1,"r":0.92},{"m":"PSBA","q":5.2,"r":0.96},{"m":"PSBA","q":10,"r":0.96}
],
"a2": [
{"m":"HSJA","q":0.7,"r":0},{"m":"HSJA","q":0.9,"r":0.02},{"m":"HSJA","q":2,"r":0.03},{"m":"HSJA","q":3.5,"r":0.04},{"m":"HSJA","q":4.1,"r":0.06},{"m":"HSJA","q":4.7,"r":0.1},{"m":"HSJA","q":5.1,"r":0.14},{"m":"HSJA","q":5.3,"r":0.2},{"m":"HSJA","q":5.5,"r":0.24},{"m":"HSJA","q":6,"r":0.28},{"m":"HSJA","q":6.6,"r":0.3},{"m":"HSJA","q":7.2,"r":0.32},{"m":"HSJA","q":7.5,"r":0.36},{"m":"HSJA","q":8,"r":0.4},{"m":"HSJA","q":8.6,"r":0.42},{"m":"HSJA","q":9,"r":0.44},{"m":"HSJA","q":9.3,"r":0.48},{"m":"HSJA","q":9.6,"r":0.5},{"m":"HSJA","q":10,"r":0.51},
{"m":"EA","q":1.3,"r":0},{"m":"EA","q":2,"r":0.02},{"m":"EA","q":2.4,"r":0.04},{"m":"EA","q":2.8,"r":0.08},{"m":"EA","q":3.3,"r":0.1},{"m":"EA","q":3.8,"r":0.14},{"m":"EA","q":4.1,"r":0.2},{"m":"EA","q":4.3,"r":0.26},{"m":"EA","q":4.9,"r":0.3},{"m":"EA","q":5.6,"r":0.32},{"m":"EA","q":6.2,"r":0.34},{"m":"EA","q":6.7,"r":0.36},{"m":"EA","q":7.1,"r":0.38},{"m":"EA","q":7.5,"r":0.42},{"m":"EA","q":8,"r":0.44},{"m":"EA","q":8.5,"r":0.46},{"m":"EA","q":9.2,"r":0.48},{"m":"EA","q":10,"r":0.48},
{"m":"Sign-OPT","q":1.5,"r":0.03},{"m":"Sign-OPT","q":2,"r":0.04},{"m":"Sign-OPT","q":2.7,"r":0.06},{"m":"Sign-OPT","q":3,"r":0.08},{"m":"Sign-OPT","q":3.5,"r":0.1},{"m":"Sign-OPT","q":4.5,"r":0.12},{"m":"Sign-OPT","q":5,"r":0.14},{"m":"Sign-OPT","q":5.2,"r":0.18},{"m":"Sign-OPT","q":6,"r":0.2},{"m":"Sign-OPT","q":6.3,"r":0.24},{"m":"Sign-OPT","q":6.8,"r":0.26},{"m":"Sign-OPT","q":7.3,"r":0.28},{"m":"Sign-OPT","q":7.8,"r":0.3},{"m":"Sign-OPT","q":8,"r":0.34},{"m":"Sign-OPT","q":8.6,"r":0.36},{"m":"Sign-OPT","q":9.3,"r":0.38},{"m":"Sign-OPT","q":9.7,"r":0.4},{"m":"Sign-OPT","q":10,"r":0.41},
{"m":"QEBA-S","q":0.2,"r":0},{"m":"QEBA-S","q":0.4,"r":0.04},{"m":"QEBA-S","q":0.6,"r":0.1},{"m":"QEBA-S","q":0.7,"r":0.14},{"m":"QEBA-S","q":0.8,"r":0.2},{"m":"QEBA-S","q":0.9,"r":0.28},{"m":"QEBA-S","q":1,"r":0.36},{"m":"QEBA-S","q":1.1,"r":0.46},{"m":"QEBA-S","q":1.2,"r":0.52},{"m":"QEBA-S","q":1.4,"r":0.58},{"m":"QEBA-S","q":1.5,"r":0.64},{"m":"QEBA-S","q":1.6,"r":0.68},{"m":"QEBA-S","q":1.7,"r":0.72},{"m":"QEBA-S","q":2,"r":0.74},{"m":"QEBA-S","q":2.2,"r":0.78},{"m":"QEBA-S","q":2.4,"r":0.82},{"m":"QEBA-S","q":2.6,"r":0.86},{"m":"QEBA-S","q":3.2,"r":0.88},{"m":"QEBA-S","q":3.7,"r":0.9},{"m":"QEBA-S","q":4.1,"r":0.92},{"m":"QEBA-S","q":4.4,"r":0.96},{"m":"QEBA-S","q":6,"r":0.96},{"m":"QEBA-S","q":7,"r":0.97},{"m":"QEBA-S","q":10,"r":0.98},
{"m":"QEBA-F","q":0.2,"r":0},{"m":"QEBA-F","q":0.5,"r":0.04},{"m":"QEBA-F","q":0.6,"r":0.08},{"m":"QEBA-F","q":0.8,"r":0.16},{"m":"QEBA-F","q":1,"r":0.3},{"m":"QEBA-F","q":1.2,"r":0.36},{"m":"QEBA-F","q":1.3,"r":0.52},{"m":"QEBA-F","q":1.5,"r":0.54},{"m":"QEBA-F","q":1.7,"r":0.62},{"m":"QEBA-F","q":2,"r":0.66},{"m":"QEBA-F","q":2.1,"r":0.7},{"m":"QEBA-F","q":2.3,"r":0.76},{"m":"QEBA-F","q":2.6,"r":0.8},{"m":"QEBA-F","q":2.9,"r":0.84},{"m":"QEBA-F","q":3.3,"r":0.86},{"m":"QEBA-F","q":4,"r":0.9},{"m":"QEBA-F","q":5,"r":0.92},{"m":"QEBA-F","q":6.4,"r":0.94},{"m":"QEBA-F","q":6.5,"r":0.97},{"m":"QEBA-F","q":7.5,"r":0.985},
{"m":"QEBA-I","q":0.4,"r":0},{"m":"QEBA-I","q":0.5,"r":0.02},{"m":"QEBA-I","q":1,"r":0.03},{"m":"QEBA-I","q":1.7,"r":0.04},{"m":"QEBA-I","q":1.8,"r":0.1},{"m":"QEBA-I","q":2.1,"r":0.16},{"m":"QEBA-I","q":2.3,"r":0.2},{"m":"QEBA-I","q":2.6,"r":0.28},{"m":"QEBA-I","q":2.8,"r":0.34},{"m":"QEBA-I","q":3,"r":0.4},{"m":"QEBA-I","q":3.3,"r":0.48},{"m":"QEBA-I","q":3.6,"r":0.54},{"m":"QEBA-I","q":3.9,"r":0.58},{"m":"QEBA-I","q":4.3,"r":0.6},{"m":"QEBA-I","q":5,"r":0.62},{"m":"QEBA-I","q":5.2,"r":0.66},{"m":"QEBA-I","q":5.6,"r":0.7},{"m":"QEBA-I","q":6.4,"r":0.72},{"m":"QEBA-I","q":6.9,"r":0.76},{"m":"QEBA-I","q":7.8,"r":0.78},{"m":"QEBA-I","q":8.1,"r":0.8},{"m":"QEBA-I","q":10,"r":0.82},
{"m":"NLBA-AE","q":0.2,"r":0},{"m":"NLBA-AE","q":0.4,"r":0.04},{"m":"NLBA-AE","q":0.6,"r":0.1},{"m":"NLBA-AE","q":0.8,"r":0.14},{"m":"NLBA-AE","q":0.9,"r":0.22},{"m":"NLBA-AE","q":1,"r":0.3},{"m":"NLBA-AE","q":1.2,"r":0.36},{"m":"NLBA-AE","q":1.3,"r":0.52},{"m":"NLBA-AE","q":1.6,"r":0.58},{"m":"NLBA-AE","q":1.7,"r":0.68},{"m":"NLBA-AE","q":2,"r":0.7},{"m":"NLBA-AE","q":2.3,"r":0.74},{"m":"NLBA-AE","q":2.5,"r":0.78},{"m":"NLBA-AE","q":3,"r":0.84},{"m":"NLBA-AE","q":3.3,"r":0.86},{"m":"NLBA-AE","q":3.8,"r":0.88},{"m":"NLBA-AE","q":4.1,"r":0.9},{"m":"NLBA-AE","q":4.3,"r":0.94},{"m":"NLBA-AE","q":5,"r":0.95},{"m":"NLBA-AE","q":6,"r":0.96},{"m":"NLBA-AE","q":10,"r":0.96},
{"m":"NLBA-VAE","q":0.2,"r":0},{"m":"NLBA-VAE","q":0.4,"r":0.06},{"m":"NLBA-VAE","q":0.6,"r":0.12},{"m":"NLBA-VAE","q":0.7,"r":0.28},{"m":"NLBA-VAE","q":0.9,"r":0.36},{"m":"NLBA-VAE","q":1,"r":0.48},{"m":"NLBA-VAE","q":1.1,"r":0.56},{"m":"NLBA-VAE","q":1.2,"r":0.6},{"m":"NLBA-VAE","q":1.5,"r":0.66},{"m":"NLBA-VAE","q":1.6,"r":0.74},{"m":"NLBA-VAE","q":1.9,"r":0.78},{"m":"NLBA-VAE","q":2.2,"r":0.82},{"m":"NLBA-VAE","q":2.6,"r":0.86},{"m":"NLBA-VAE","q":2.8,"r":0.88},{"m":"NLBA-VAE","q":3.2,"r":0.9},{"m":"NLBA-VAE","q":4,"r":0.91},{"m":"NLBA-VAE","q":4.6,"r":0.94},{"m":"NLBA-VAE","q":5.3,"r":0.96},{"m":"NLBA-VAE","q":6.5,"r":0.97},{"m":"NLBA-VAE","q":10,"r":0.98},
{"m":"PSBA","q":0.1,"r":0},{"m":"PSBA","q":0.2,"r":0.04},{"m":"PSBA","q":0.25,"r":0.1},{"m":"PSBA","q":0.4,"r":0.14},{"m":"PSBA","q":0.5,"r":0.18},{"m":"PSBA","q":0.55,"r":0.3},{"m":"PSBA","q":0.6,"r":0.4},{"m":"PSBA","q":0.65,"r":0.48},{"m":"PSBA","q":0.75,"r":0.52},{"m":"PSBA","q":0.9,"r":0.6},{"m":"PSBA","q":1,"r":0.64},{"m":"PSBA","q":1.1,"r":0.68},{"m":"PSBA","q":1.2,"r":0.72},{"m":"PSBA","q":1.4,"r":0.76},{"m":"PSBA","q":1.6,"r":0.8},{"m":"PSBA","q":1.7,"r":0.82},{"m":"PSBA","q":1.9,"r":0.84},{"m":"PSBA","q":2,"r":0.86},{"m":"PSBA","q":2.3,"r":0.9},{"m":"PSBA","q":2.5,"r":0.94},{"m":"PSBA","q":2.6,"r":0.96},{"m":"PSBA","q":3.5,"r":0.97},{"m":"PSBA","q":4.2,"r":0.98}
],
"b2": [
{"m":"HSJA","q":0.4,"r":0},{"m":"HSJA","q":0.7,"r":0.04},{"m":"HSJA","q":1.4,"r":0.06},{"m":"HSJA","q":1.7,"r":0.12},{"m":"HSJA","q":2,"r":0.14},{"m":"HSJA","q":2.6,"r":0.16},{"m":"HSJA","q":3.1,"r":0.2},{"m":"HSJA","q":3.5,"r":0.22},{"m":"HSJA","q":3.8,"r":0.24},{"m":"HSJA","q":4.1,"r":0.3},{"m":"HSJA","q":4.4,"r":0.32},{"m":"HSJA","q":4.8,"r":0.34},{"m":"HSJA","q":5.4,"r":0.36},{"m":"HSJA","q":5.7,"r":0.38},{"m":"HSJA","q":6.6,"r":0.4},{"m":"HSJA","q":6.8,"r":0.44},{"m":"HSJA","q":7.2,"r":0.48},{"m":"HSJA","q":7.8,"r":0.52},{"m":"HSJA","q":8.6,"r":0.54},{"m":"HSJA","q":8.8,"r":0.58},{"m":"HSJA","q":9.3,"r":0.6},{"m":"HSJA","q":10,"r":0.61},
{"m":"Sign-OPT","q":0.7,"r":0},{"m":"Sign-OPT","q":0.9,"r":0.02},{"m":"Sign-OPT","q":1.6,"r":0.04},{"m":"Sign-OPT","q":2.3,"r":0.06},{"m":"Sign-OPT","q":3,"r":0.08},{"m":"Sign-OPT","q":3.3,"r":0.14},{"m":"Sign-OPT","q":3.9,"r":0.18},{"m":"Sign-OPT","q":4.4,"r":0.2},{"m":"Sign-OPT","q":5.1,"r":0.22},{"m":"Sign-OPT","q":5.3,"r":0.28},{"m":"Sign-OPT","q":5.8,"r":0.3},{"m":"Sign-OPT","q":6.8,"r":0.31},{"m":"Sign-OPT","q":7.9,"r":0.32},{"m":"Sign-OPT","q":8.2,"r":0.36},{"m":"Sign-OPT","q":8.6,"r":0.4},{"m":"Sign-OPT","q":9,"r":0.44},{"m":"Sign-OPT","q":9.4,"r":0.46},{"m":"Sign-OPT","q":10,"r":0.48},
{"m":"QEBA-S","q":0.2,"r":0},{"m":"QEBA-S","q":0.4,"r":0.06},{"m":"QEBA-S","q":0.6,"r":0.1},{"m":"QEBA-S","q":0.8,"r":0.14},{"m":"QEBA-S","q":1.1,"r":0.2},{"m":"QEBA-S","q":1.4,"r":0.3},{"m":"QEBA-S","q":1.7,"r":0.4},{"m":"QEBA-S","q":1.9,"r":0.46},{"m":"QEBA-S","q":2.1,"r":0.5},{"m":"QEBA-S","q":2.4,"r":0.56},{"m":"QEBA-S","q":2.6,"r":0.66},{"m":"QEBA-S","q":2.9,"r":0.7},{"m":"QEBA-S","q":3.1,"r":0.76},{"m":"QEBA-S","q":3.4,"r":0.82},{"m":"QEBA-S","q":3.6,"r":0.86},{"m":"QEBA-S","q":3.8,"r":0.88},{"m":"QEBA-S","q":4.3,"r":0.9},{"m":"QEBA-S","q":4.6,"r":0.96},{"m":"QEBA-S","q":6,"r":0.97},{"m":"QEBA-S","q":9,"r":0.98},{"m":"QEBA-S","q":10,"r":0.98},
{"m":"QEBA-F","q":0.2,"r":0},{"m":"QEBA-F","q":0.4,"r":0.06},{"m":"QEBA-F","q":0.8,"r":0.12},{"m":"QEBA-F","q":1.2,"r":0.2},{"m":"QEBA-F","q":1.5,"r":0.3},{"m":"QEBA-F","q":1.8,"r":0.36},{"m":"QEBA-F","q":2,"r":0.42},{"m":"QEBA-F","q":2.3,"r":0.5},{"m":"QEBA-F","q":2.6,"r":0.56},{"m":"QEBA-F","q":2.8,"r":0.6},{"m":"QEBA-F","q":3.2,"r":0.66},{"m":"QEBA-F","q":3.5,"r":0.7},{"m":"QEBA-F","q":3.7,"r":0.74},{"m":"QEBA-F","q":4,"r":0.8},{"m":"QEBA-F","q":4.5,"r":0.84},{"m":"QEBA-F","q":5.1,"r":0.86},{"m":"QEBA-F","q":5.4,"r":0.9},{"m":"QEBA-F","q":5.6,"r":0.96},{"m":"QEBA-F","q":6.5,"r":0.97},{"m":"QEBA-F","q":8,"r":0.98},{"m":"QEBA-F","q":10,"r":0.98},
{"m":"QEBA-I","q":0.2,"r":0},{"m":"QEBA-I","q":0.4,"r":0.04},{"m":"QEBA-I","q":0.6,"r":0.08},{"m":"QEBA-I","q":0.8,"r":0.1},{"m":"QEBA-I","q":1.1,"r":0.14},{"m":"QEBA-I","q":1.4,"r":0.16},{"m":"QEBA-I","q":1.6,"r":0.18},{"m":"QEBA-I","q":1.7,"r":0.26},{"m":"QEBA-I","q":1.8,"r":0.36},{"m":"QEBA-I","q":2,"r":0.38},{"m":"QEBA-I","q":2.3,"r":0.4},{"m":"QEBA-I","q":2.6,"r":0.44},{"m":"QEBA-I","q":2.9,"r":0.46},{"m":"QEBA-I","q":3,"r":0.5},{"m":"QEBA-I","q":3.2,"r":0.52},{"m":"QEBA-I","q":3.6,"r":0.6},{"m":"QEBA-I","q":3.7,"r":0.66},{"m":"QEBA-I","q":4,"r":0.74},{"m":"QEBA-I","q":4.5,"r":0.76},{"m":"QEBA-I","q":4.9,"r":0.78},{"m":"QEBA-I","q":5,"r":0.8},{"m":"QEBA-I","q":5.5,"r":0.82},{"m":"QEBA-I","q":5.8,"r":0.84},{"m":"QEBA-I","q":6.5,"r":0.86},{"m":"QEBA-I","q":7.2,"r":0.88},{"m":"QEBA-I","q":7.6,"r":0.92},{"m":"QEBA-I","q":8.4,"r":0.94},{"m":"QEBA-I","q":9.2,"r":0.96},{"m":"QEBA-I","q":10,"r":0.96},
{"m":"NLBA-AE","q":0.2,"r":0},{"m":"NLBA-AE","q":0.4,"r":0.06},{"m":"NLBA-AE","q":0.6,"r":0.1},{"m":"NLBA-AE","q":1,"r":0.16},{"m":"NLBA-AE","q":1.2,"r":0.26},{"m":"NLBA-AE","q":1.4,"r":0.38},{"m":"NLBA-AE","q":1.6,"r":0.46},{"m":"NLBA-AE","q":1.9,"r":0.5},{"m":"NLBA-AE","q":2.1,"r":0.6},{"m":"NLBA-AE","q":2.4,"r":0.66},{"m":"NLBA-AE","q":2.6,"r":0.76},{"m":"NLBA-AE","q":2.8,"r":0.8},{"m":"NLBA-AE","q":3.1,"r":0.84},{"m":"NLBA-AE","q":3.4,"r":0.88},{"m":"NLBA-AE","q":3.8,"r":0.92},{"m":"NLBA-AE","q":4.1,"r":0.95},{"m":"NLBA-AE","q":4.6,"r":0.96},{"m":"NLBA-AE","q":6,"r":0.97},{"m":"NLBA-AE","q":9,"r":0.98},{"m":"NLBA-AE","q":10,"r":0.98},
{"m":"NLBA-VAE","q":0.2,"r":0},{"m":"NLBA-VAE","q":0.4,"r":0.06},{"m":"NLBA-VAE","q":0.7,"r":0.1},{"m":"NLBA-VAE","q":1,"r":0.16},{"m":"NLBA-VAE","q":1.2,"r":0.2},{"m":"NLBA-VAE","q":1.5,"r":0.28},{"m":"NLBA-VAE","q":1.8,"r":0.34},{"m":"NLBA-VAE","q":2.1,"r":0.4},{"m":"NLBA-VAE","q":2.4,"r":0.44},{"m":"NLBA-VAE","q":2.8,"r":0.48},{"m":"NLBA-VAE","q":3.2,"r":0.52},{"m":"NLBA-VAE","q":3.4,"r":0.56},{"m":"NLBA-VAE","q":3.5,"r":0.6},{"m":"NLBA-VAE","q":3.7,"r":0.66},{"m":"NLBA-VAE","q":4.3,"r":0.68},{"m":"NLBA-VAE","q":5,"r":0.7},{"m":"NLBA-VAE","q":5.6,"r":0.72},{"m":"NLBA-VAE","q":6,"r":0.74},{"m":"NLBA-VAE","q":7.3,"r":0.76},{"m":"NLBA-VAE","q":7.5,"r":0.78},{"m":"NLBA-VAE","q":8.3,"r":0.79},{"m":"NLBA-VAE","q":9,"r":0.8},{"m":"NLBA-VAE","q":10,"r":0.82},
{"m":"PSBA","q":0.2,"r":0},{"m":"PSBA","q":0.4,"r":0.04},{"m":"PSBA","q":0.5,"r":0.1},{"m":"PSBA","q":0.7,"r":0.14},{"m":"PSBA","q":0.8,"r":0.2},{"m":"PSBA","q":0.9,"r":0.3},{"m":"PSBA","q":1.1,"r":0.32},{"m":"PSBA","q":1.3,"r":0.36},{"m":"PSBA","q":1.5,"r":0.4},{"m":"PSBA","q":1.6,"r":0.44},{"m":"PSBA","q":1.9,"r":0.5},{"m":"PSBA","q":2.1,"r":0.58},{"m":"PSBA","q":2.3,"r":0.62},{"m":"PSBA","q":2.5,"r":0.68},{"m":"PSBA","q":2.8,"r":0.74},{"m":"PSBA","q":3,"r":0.78},{"m":"PSBA","q":3.2,"r":0.84},{"m":"PSBA","q":3.4,"r":0.86},{"m":"PSBA","q":3.7,"r":0.88},{"m":"PSBA","q":4.4,"r":0.9},{"m":"PSBA","q":4.6,"r":0.94},{"m":"PSBA","q":5.5,"r":0.96},{"m":"PSBA","q":7,"r":0.97},{"m":"PSBA","q":9,"r":0.98},{"m":"PSBA","q":10,"r":0.98}
],
"c2": [
{"m":"HSJA","q":0.6,"r":0},{"m":"HSJA","q":1,"r":0.02},{"m":"HSJA","q":1.2,"r":0.04},{"m":"HSJA","q":1.6,"r":0.08},{"m":"HSJA","q":1.8,"r":0.14},{"m":"HSJA","q":2,"r":0.2},{"m":"HSJA","q":2.2,"r":0.26},{"m":"HSJA","q":2.5,"r":0.32},{"m":"HSJA","q":2.8,"r":0.36},{"m":"HSJA","q":3.1,"r":0.38},{"m":"HSJA","q":3.4,"r":0.4},{"m":"HSJA","q":3.8,"r":0.44},{"m":"HSJA","q":4,"r":0.48},{"m":"HSJA","q":4.1,"r":0.52},{"m":"HSJA","q":4.4,"r":0.56},{"m":"HSJA","q":4.6,"r":0.6},{"m":"HSJA","q":5,"r":0.62},{"m":"HSJA","q":5.2,"r":0.66},{"m":"HSJA","q":5.7,"r":0.7},{"m":"HSJA","q":6,"r":0.72},{"m":"HSJA","q":6.3,"r":0.74},{"m":"HSJA","q":6.8,"r":0.78},{"m":"HSJA","q":7,"r":0.82},{"m":"HSJA","q":7.4,"r":0.84},{"m":"HSJA","q":7.7,"r":0.86},{"m":"HSJA","q":8,"r":0.9},{"m":"HSJA","q":8.3,"r":0.92},{"m":"HSJA","q":9,"r":0.93},{"m":"HSJA","q":10,"r":0.94},
{"m":"EA","q":1.4,"r":0},{"m":"EA","q":2,"r":0.04},{"m":"EA","q":2.6,"r":0.08},{"m":"EA","q":2.8,"r":0.14},{"m":"EA","q":2.9,"r":0.16},{"m":"EA","q":3.6,"r":0.17},{"m":"EA","q":4.4,"r":0.18},{"m":"EA","q":4.7,"r":0.22},{"m":"EA","q":5.6,"r":0.24},{"m":"EA","q":5.7,"r":0.26},{"m":"EA","q":6,"r":0.28},{"m":"EA","q":6.8,"r":0.29},{"m":"EA","q":7.6,"r":0.3},{"m":"EA","q":7.8,"r":0.32},{"m":"EA","q":8.3,"r":0.34},{"m":"EA","q":9.2,"r":0.36},{"m":"EA","q":9.6,"r":0.38},{"m":"EA","q":10,"r":0.4},
{"m":"Sign-OPT","q":1.4,"r":0},{"m":"Sign-OPT","q":1.6,"r":0.04},{"m":"Sign-OPT","q":2,"r":0.06},{"m":"Sign-OPT","q":2.4,"r":0.1},{"m":"Sign-OPT","q":2.8,"r":0.16},{"m":"Sign-OPT","q":2.9,"r":0.22},{"m":"Sign-OPT","q":3.2,"r":0.28},{"m":"Sign-OPT","q":3.4,"r":0.32},{"m":"Sign-OPT","q":3.6,"r":0.36},{"m":"Sign-OPT","q":4,"r":0.38},{"m":"Sign-OPT","q":4.4,"r":0.4},{"m":"Sign-OPT","q":4.9,"r":0.42},{"m":"Sign-OPT","q":5,"r":0.48},{"m":"Sign-OPT","q":5.3,"r":0.52},{"m":"Sign-OPT","q":5.6,"r":0.56},{"m":"Sign-OPT","q":6,"r":0.6},{"m":"Sign-OPT","q":6.5,"r":0.61},{"m":"Sign-OPT","q":7.2,"r":0.62},{"m":"Sign-OPT","q":7.5,"r":0.66},{"m":"Sign-OPT","q":7.8,"r":0.68},{"m":"Sign-OPT","q":8,"r":0.72},{"m":"Sign-OPT","q":8.3,"r":0.74},{"m":"Sign-OPT","q":9,"r":0.76},{"m":"Sign-OPT","q":9.5,"r":0.8},{"m":"Sign-OPT","q":10,"r":0.84},
{"m":"QEBA-S","q":0.4,"r":0},{"m":"QEBA-S","q":0.6,"r":0.04},{"m":"QEBA-S","q":0.7,"r":0.1},{"m":"QEBA-S","q":0.8,"r":0.16},{"m":"QEBA-S","q":0.9,"r":0.22},{"m":"QEBA-S","q":1,"r":0.3},{"m":"QEBA-S","q":1.1,"r":0.36},{"m":"QEBA-S","q":1.3,"r":0.4},{"m":"QEBA-S","q":1.5,"r":0.46},{"m":"QEBA-S","q":1.7,"r":0.52},{"m":"QEBA-S","q":1.8,"r":0.56},{"m":"QEBA-S","q":2,"r":0.6},{"m":"QEBA-S","q":2.2,"r":0.66},{"m":"QEBA-S","q":2.4,"r":0.72},{"m":"QEBA-S","q":2.6,"r":0.76},{"m":"QEBA-S","q":2.8,"r":0.8},{"m":"QEBA-S","q":2.9,"r":0.84},{"m":"QEBA-S","q":3,"r":0.86},{"m":"QEBA-S","q":3.6,"r":0.88},{"m":"QEBA-S","q":3.8,"r":0.9},{"m":"QEBA-S","q":4,"r":0.92},{"m":"QEBA-S","q":4.3,"r":0.96},{"m":"QEBA-S","q":5,"r":0.97},{"m":"QEBA-S","q":5.7,"r":0.98},
{"m":"QEBA-F","q":0.2,"r":0},{"m":"QEBA-F","q":0.4,"r":0.02},{"m":"QEBA-F","q":0.6,"r":0.04},{"m":"QEBA-F","q":0.7,"r":0.1},{"m":"QEBA-F","q":0.8,"r":0.18},{"m":"QEBA-F","q":1,"r":0.24},{"m":"QEBA-F","q":1.1,"r":0.3},{"m":"QEBA-F","q":1.3,"r":0.38},{"m":"QEBA-F","q":1.5,"r":0.46},{"m":"QEBA-F","q":1.6,"r":0.5},{"m":"QEBA-F","q":1.8,"r":0.52},{"m":"QEBA-F","q":2,"r":0.56},{"m":"QEBA-F","q":2.2,"r":0.62},{"m":"QEBA-F","q":2.4,"r":0.7},{"m":"QEBA-F","q":2.6,"r":0.74},{"m":"QEBA-F","q":2.8,"r":0.76},{"m":"QEBA-F","q":3.1,"r":0.8},{"m":"QEBA-F","q":3.5,"r":0.84},{"m":"QEBA-F","q":4,"r":0.86},{"m":"QEBA-F","q":4.4,"r":0.88},{"m":"QEBA-F","q":5.2,"r":0.9},{"m":"QEBA-F","q":5.5,"r":0.94},{"m":"QEBA-F","q":5.9,"r":0.96},{"m":"QEBA-F","q":6.8,"r":0.98},
{"m":"QEBA-I","q":0.5,"r":0},{"m":"QEBA-I","q":0.6,"r":0.04},{"m":"QEBA-I","q":0.7,"r":0.1},{"m":"QEBA-I","q":0.9,"r":0.2},{"m":"QEBA-I","q":1.1,"r":0.28},{"m":"QEBA-I","q":1.2,"r":0.34},{"m":"QEBA-I","q":1.4,"r":0.4},{"m":"QEBA-I","q":1.6,"r":0.46},{"m":"QEBA-I","q":1.7,"r":0.52},{"m":"QEBA-I","q":1.8,"r":0.6},{"m":"QEBA-I","q":1.9,"r":0.7},{"m":"QEBA-I","q":2,"r":0.76},{"m":"QEBA-I","q":2.1,"r":0.8},{"m":"QEBA-I","q":2.4,"r":0.84},{"m":"QEBA-I","q":2.8,"r":0.88},{"m":"QEBA-I","q":3,"r":0.9},{"m":"QEBA-I","q":3.4,"r":0.94},{"m":"QEBA-I","q":3.6,"r":0.96},{"m":"QEBA-I","q":4,"r":0.98},
{"m":"NLBA-AE","q":0.5,"r":0},{"m":"NLBA-AE","q":0.8,"r":0.02},{"m":"NLBA-AE","q":1.1,"r":0.06},{"m":"NLBA-AE","q":1.3,"r":0.1},{"m":"NLBA-AE","q":1.5,"r":0.12},{"m":"NLBA-AE","q":1.7,"r":0.14},{"m":"NLBA-AE","q":1.9,"r":0.2},{"m":"NLBA-AE","q":2.1,"r":0.26},{"m":"NLBA-AE","q":2.3,"r":0.3},{"m":"NLBA-AE","q":2.6,"r":0.34},{"m":"NLBA-AE","q":2.8,"r":0.38},{"m":"NLBA-AE","q":3,"r":0.4},{"m":"NLBA-AE","q":3.2,"r":0.42},{"m":"NLBA-AE","q":3.5,"r":0.44},{"m":"NLBA-AE","q":4,"r":0.46},{"m":"NLBA-AE","q":4.2,"r":0.5},{"m":"NLBA-AE","q":4.5,"r":0.52},{"m":"NLBA-AE","q":4.9,"r":0.54},{"m":"NLBA-AE","q":5,"r":0.62},{"m":"NLBA-AE","q":5.4,"r":0.66},{"m":"NLBA-AE","q":5.7,"r":0.7},{"m":"NLBA-AE","q":6.2,"r":0.72},{"m":"NLBA-AE","q":6.9,"r":0.74},{"m":"NLBA-AE","q":7.5,"r":0.78},{"m":"NLBA-AE","q":7.7,"r":0.82},{"m":"NLBA-AE","q":8,"r":0.86},{"m":"NLBA-AE","q":9,"r":0.88},{"m":"NLBA-AE","q":10,"r":0.9},
{"m":"NLBA-VAE","q":0.4,"r":0},{"m":"NLBA-VAE","q":0.7,"r":0.04},{"m":"NLBA-VAE","q":0.9,"r":0.08},{"m":"NLBA-VAE","q":1.1,"r":0.14},{"m":"NLBA-VAE","q":1.3,"r":0.2},{"m":"NLBA-VAE","q":1.5,"r":0.28},{"m":"NLBA-VAE","q":1.8,"r":0.34},{"m":"NLBA-VAE","q":2.1,"r":0.36},{"m":"NLBA-VAE","q":2.5,"r":0.4},{"m":"NLBA-VAE","q":2.7,"r":0.44},{"m":"NLBA-VAE","q":2.9,"r":0.48},{"m":"NLBA-VAE","q":3.1,"r":0.52},{"m":"NLBA-VAE","q":3.2,"r":0.58},{"m":"NLBA-VAE","q":3.4,"r":0.64},{"m":"NLBA-VAE","q":3.6,"r":0.68},{"m":"NLBA-VAE","q":4,"r":0.72},{"m":"NLBA-VAE","q":4.2,"r":0.74},{"m":"NLBA-VAE","q":4.6,"r":0.78},{"m":"NLBA-VAE","q":4.8,"r":0.82},{"m":"NLBA-VAE","q":5,"r":0.84},{"m":"NLBA-VAE","q":5.6,"r":0.86},{"m":"NLBA-VAE","q":6.1,"r":0.88},{"m":"NLBA-VAE","q":6.6,"r":0.9},{"m":"NLBA-VAE","q":7,"r":0.92},{"m":"NLBA-VAE","q":7.4,"r":0.94},{"m":"NLBA-VAE","q":7.8,"r":0.96},{"m":"NLBA-VAE","q":10,"r":0.96},
{"m":"PSBA","q":0.1,"r":0},{"m":"PSBA","q":0.15,"r":0.02},{"m":"PSBA","q":0.2,"r":0.04},{"m":"PSBA","q":0.25,"r":0.26},{"m":"PSBA","q":0.35,"r":0.34},{"m":"PSBA","q":0.45,"r":0.36},{"m":"PSBA","q":0.5,"r":0.42},{"m":"PSBA","q":0.55,"r":0.44},{"m":"PSBA","q":0.6,"r":0.54},{"m":"PSBA","q":0.7,"r":0.56},{"m":"PSBA","q":0.75,"r":0.68},{"m":"PSBA","q":0.9,"r":0.7},{"m":"PSBA","q":1.1,"r":0.72},{"m":"PSBA","q":1.15,"r":0.74},{"m":"PSBA","q":1.3,"r":0.78},{"m":"PSBA","q":1.5,"r":0.8},{"m":"PSBA","q":1.6,"r":0.84},{"m":"PSBA","q":1.8,"r":0.86},{"m":"PSBA","q":2.8,"r":0.88},{"m":"PSBA","q":3.7,"r":0.9},{"m":"PSBA","q":4.6,"r":0.91},{"m":"PSBA","q":6,"r":0.92},{"m":"PSBA","q":10,"r":0.92}
],
"d2": [
{"m":"HSJA","q":0,"r":0},{"m":"HSJA","q":0.5,"r":0.04},{"m":"HSJA","q":0.8,"r":0.08},{"m":"HSJA","q":1.2,"r":0.12},{"m":"HSJA","q":1.6,"r":0.16},{"m":"HSJA","q":1.9,"r":0.18},{"m":"HSJA","q":2.3,"r":0.2},{"m":"HSJA","q":2.6,"r":0.22},{"m":"HSJA","q":2.8,"r":0.28},{"m":"HSJA","q":3,"r":0.34},{"m":"HSJA","q":3.3,"r":0.38},{"m":"HSJA","q":3.7,"r":0.42},{"m":"HSJA","q":3.8,"r":0.5},{"m":"HSJA","q":4,"r":0.56},{"m":"HSJA","q":4.3,"r":0.6},{"m":"HSJA","q":4.6,"r":0.66},{"m":"HSJA","q":4.9,"r":0.7},{"m":"HSJA","q":5.5,"r":0.72},{"m":"HSJA","q":5.8,"r":0.8},{"m":"HSJA","q":6.5,"r":0.81},{"m":"HSJA","q":7.2,"r":0.84},{"m":"HSJA","q":7.7,"r":0.86},{"m":"HSJA","q":8.2,"r":0.88},{"m":"HSJA","q":8.5,"r":0.9},{"m":"HSJA","q":9,"r":0.92},{"m":"HSJA","q":10,"r":0.93},
{"m":"EA","q":0.2,"r":0},{"m":"EA","q":0.9,"r":0.04},{"m":"EA","q":1.3,"r":0.08},{"m":"EA","q":1.6,"r":0.14},{"m":"EA","q":1.9,"r":0.2},{"m":"EA","q":2.3,"r":0.26},{"m":"EA","q":2.6,"r":0.3},{"m":"EA","q":2.9,"r":0.38},{"m":"EA","q":3.5,"r":0.4},{"m":"EA","q":4.2,"r":0.42},{"m":"EA","q":4.5,"r":0.44},{"m":"EA","q":4.8,"r":0.46},{"m":"EA","q":6.5,"r":0.47},{"m":"EA","q":8,"r":0.48},{"m":"EA","q":9.3,"r":0.5},{"m":"EA","q":10,"r":0.5},
{"m":"Sign-OPT","q":0.2,"r":0},{"m":"Sign-OPT","q":0.6,"r":0.04},{"m":"Sign-OPT","q":1,"r":0.1},{"m":"Sign-OPT","q":1.5,"r":0.14},{"m":"Sign-OPT","q":2,"r":0.16},{"m":"Sign-OPT","q":2.2,"r":0.22},{"m":"Sign-OPT","q":2.6,"r":0.26},{"m":"Sign-OPT","q":3,"r":0.32},{"m":"Sign-OPT","q":3.4,"r":0.36},{"m":"Sign-OPT","q":3.9,"r":0.4},{"m":"Sign-OPT","q":4.2,"r":0.44},{"m":"Sign-OPT","q":4.5,"r":0.48},{"m":"Sign-OPT","q":5.1,"r":0.52},{"m":"Sign-OPT","q":5.4,"r":0.56},{"m":"Sign-OPT","q":5.8,"r":0.62},{"m":"Sign-OPT","q":6.5,"r":0.64},{"m":"Sign-OPT","q":7.5,"r":0.66},{"m":"Sign-OPT","q":8,"r":0.68},{"m":"Sign-OPT","q":9.3,"r":0.7},{"m":"Sign-OPT","q":10,"r":0.72},
{"m":"QEBA-S","q":0,"r":0},{"m":"QEBA-S","q":0.3,"r":0.04},{"m":"QEBA-S","q":0.7,"r":0.1},{"m":"QEBA-S","q":0.9,"r":0.16},{"m":"QEBA-S","q":1.2,"r":0.2},{"m":"QEBA-S","q":1.5,"r":0.26},{"m":"QEBA-S","q":1.7,"r":0.34},{"m":"QEBA-S","q":2,"r":0.4},{"m":"QEBA-S","q":2.3,"r":0.44},{"m":"QEBA-S","q":2.5,"r":0.5},{"m":"QEBA-S","q":2.7,"r":0.56},{"m":"QEBA-S","q":2.9,"r":0.62},{"m":"QEBA-S","q":3.2,"r":0.68},{"m":"QEBA-S","q":3.5,"r":0.74},{"m":"QEBA-S","q":3.8,"r":0.8},{"m":"QEBA-S","q":4.5,"r":0.81},{"m":"QEBA-S","q":4.8,"r":0.86},{"m":"QEBA-S","q":5.3,"r":0.88},{"m":"QEBA-S","q":6,"r":0.92},{"m":"QEBA-S","q":7.5,"r":0.93},{"m":"QEBA-S","q":8.5,"r":0.95},{"m":"QEBA-S","q":10,"r":0.96},
{"m":"QEBA-F","q":0,"r":0},{"m":"QEBA-F","q":0.3,"r":0.04},{"m":"QEBA-F","q":0.7,"r":0.1},{"m":"QEBA-F","q":1,"r":0.16},{"m":"QEBA-F","q":1.3,"r":0.22},{"m":"QEBA-F","q":1.6,"r":0.3},{"m":"QEBA-F","q":2,"r":0.38},{"m":"QEBA-F","q":2.3,"r":0.44},{"m":"QEBA-F","q":2.5,"r":0.52},{"m":"QEBA-F","q":2.8,"r":0.6},{"m":"QEBA-F","q":3.1,"r":0.66},{"m":"QEBA-F","q":3.4,"r":0.72},{"m":"QEBA-F","q":3.7,"r":0.78},{"m":"QEBA-F","q":4,"r":0.82},{"m":"QEBA-F","q":4.4,"r":0.86},{"m":"QEBA-F","q":5.2,"r":0.88},{"m":"QEBA-F","q":6,"r":0.9},{"m":"QEBA-F","q":7,"r":0.91},{"m":"QEBA-F","q":8,"r":0.92},{"m":"QEBA-F","q":8.5,"r":0.94},{"m":"QEBA-F","q":10,"r":0.95},
{"m":"QEBA-I","q":0,"r":0},{"m":"QEBA-I","q":0.3,"r":0.06},{"m":"QEBA-I","q":0.5,"r":0.1},{"m":"QEBA-I","q":0.8,"r":0.12},{"m":"QEBA-I","q":1,"r":0.2},{"m":"QEBA-I","q":1.3,"r":0.24},{"m":"QEBA-I","q":1.5,"r":0.3},{"m":"QEBA-I","q":1.7,"r":0.34},{"m":"QEBA-I","q":2,"r":0.4},{"m":"QEBA-I","q":2.2,"r":0.48},{"m":"QEBA-I","q":2.5,"r":0.54},{"m":"QEBA-I","q":2.7,"r":0.6},{"m":"QEBA-I","q":3.1,"r":0.66},{"m":"QEBA-I","q":3.5,"r":0.72},{"m":"QEBA-I","q":3.9,"r":0.76},{"m":"QEBA-I","q":4.5,"r":0.78},{"m":"QEBA-I","q":5,"r":0.84},{"m":"QEBA-I","q":5.7,"r":0.88},{"m":"QEBA-I","q":6,"r":0.9},{"m":"QEBA-I","q":7,"r":0.92},{"m":"QEBA-I","q":8,"r":0.93},{"m":"QEBA-I","q":10,"r":0.94},
{"m":"NLBA-AE","q":0,"r":0},{"m":"NLBA-AE","q":0.4,"r":0.04},{"m":"NLBA-AE","q":0.7,"r":0.08},{"m":"NLBA-AE","q":1,"r":0.14},{"m":"NLBA-AE","q":1.4,"r":0.18},{"m":"NLBA-AE","q":1.7,"r":0.24},{"m":"NLBA-AE","q":2.2,"r":0.28},{"m":"NLBA-AE","q":2.5,"r":0.34},{"m":"NLBA-AE","q":2.8,"r":0.4},{"m":"NLBA-AE","q":3,"r":0.48},{"m":"NLBA-AE","q":3.3,"r":0.56},{"m":"NLBA-AE","q":3.6,"r":0.62},{"m":"NLBA-AE","q":3.9,"r":0.68},{"m":"NLBA-AE","q":4.1,"r":0.72},{"m":"NLBA-AE","q":4.5,"r":0.76},{"m":"NLBA-AE","q":4.9,"r":0.78},{"m":"NLBA-AE","q":5.2,"r":0.8},{"m":"NLBA-AE","q":5.6,"r":0.84},{"m":"NLBA-AE","q":5.9,"r":0.86},{"m":"NLBA-AE","q":6,"r":0.9},{"m":"NLBA-AE","q":6.7,"r":0.92},{"m":"NLBA-AE","q":7.5,"r":0.94},{"m":"NLBA-AE","q":8.5,"r":0.95},{"m":"NLBA-AE","q":9.5,"r":0.96},{"m":"NLBA-AE","q":10,"r":0.98},
{"m":"NLBA-VAE","q":0,"r":0},{"m":"NLBA-VAE","q":0.5,"r":0.04},{"m":"NLBA-VAE","q":1,"r":0.08},{"m":"NLBA-VAE","q":1.3,"r":0.12},{"m":"NLBA-VAE","q":1.7,"r":0.16},{"m":"NLBA-VAE","q":1.9,"r":0.2},{"m":"NLBA-VAE","q":2.2,"r":0.26},{"m":"NLBA-VAE","q":2.6,"r":0.3},{"m":"NLBA-VAE","q":2.9,"r":0.36},{"m":"NLBA-VAE","q":3.1,"r":0.44},{"m":"NLBA-VAE","q":3.4,"r":0.54},{"m":"NLBA-VAE","q":3.7,"r":0.62},{"m":"NLBA-VAE","q":4,"r":0.68},{"m":"NLBA-VAE","q":4.2,"r":0.72},{"m":"NLBA-VAE","q":4.4,"r":0.76},{"m":"NLBA-VAE","q":4.8,"r":0.78},{"m":"NLBA-VAE","q":5.8,"r":0.8},{"m":"NLBA-VAE","q":6.5,"r":0.82},{"m":"NLBA-VAE","q":7,"r":0.84},{"m":"NLBA-VAE","q":7.4,"r":0.86},{"m":"NLBA-VAE","q":7.9,"r":0.87},{"m":"NLBA-VAE","q":8.2,"r":0.9},{"m":"NLBA-VAE","q":9,"r":0.92},{"m":"NLBA-VAE","q":10,"r":0.94},
{"m":"PSBA","q":0,"r":0},{"m":"PSBA","q":0.3,"r":0.04},{"m":"PSBA","q":0.5,"r":0.06},{"m":"PSBA","q":0.8,"r":0.1},{"m":"PSBA","q":0.85,"r":0.16},{"m":"PSBA","q":1.1,"r":0.2},{"m":"PSBA","q":1.3,"r":0.22},{"m":"PSBA","q":1.6,"r":0.24},{"m":"PSBA","q":1.7,"r":0.36},{"m":"PSBA","q":2,"r":0.38},{"m":"PSBA","q":2.2,"r":0.4},{"m":"PSBA","q":2.4,"r":0.5},{"m":"PSBA","q":2.7,"r":0.54},{"m":"PSBA","q":2.9,"r":0.6},{"m":"PSBA","q":3,"r":0.64},{"m":"PSBA","q":3.2,"r":0.66},{"m":"PSBA","q":3.4,"r":0.68},{"m":"PSBA","q":3.6,"r":0.72},{"m":"PSBA","q":3.9,"r":0.78},{"m":"PSBA","q":4.2,"r":0.82},{"m":"PSBA","q":4.7,"r":0.86},{"m":"PSBA","q":5.3,"r":0.87},{"m":"PSBA","q":5.8,"r":0.88},{"m":"PSBA","q":6,"r":0.9},{"m":"PSBA","q":6.4,"r":0.92},{"m":"PSBA","q":6.8,"r":0.94},{"m":"PSBA","q":8,"r":0.96},{"m":"PSBA","q":10,"r":0.97}
]
},
"spacing": 20,
"resolve": {"legend": {"color": "independent", "strokeDash": "independent"}},
"vconcat": [
{
 "hconcat": [
  {"width": 6, "height": 263, "data": {"values": []}, "mark": {"type": "point"}, "encoding": {}, "view": {"stroke": null}},
  {"width": 276, "height": 263, "data": {"name": "a1"}, "mark": {"type": "line", "strokeWidth": 1.4},
   "encoding": {
    "x": {"field": "q", "type": "quantitative", "scale": {"domain": [0, 10], "nice": false}, "axis": {"values": [0, 2, 4, 6, 8, 10], "labelExpr": "datum.value == 0 ? '0' : datum.value + 'K'", "title": "(a) MNIST # Queries", "titlePadding": 3.5}},
    "y": {"field": "r", "type": "quantitative", "scale": {"domain": [0, 1], "nice": false}, "axis": {"values": [0, 0.2, 0.4, 0.6, 0.8, 1], "format": ".1f", "title": "Attack Success Rate", "titlePadding": 7.4}},
    "color": {"field": "m", "type": "nominal", "scale": {"domain": ["HSJA", "EA", "Sign-OPT", "QEBA-S", "QEBA-F", "QEBA-I", "NLBA-AE", "NLBA-VAE", "PSBA"], "range": ["#000000", "#e377c2", "#bcbd22", "#d62728", "#ff7f0e", "#2ca02c", "#1f77b4", "#8c564b", "#6a1cc0"]}, "legend": null},
    "strokeDash": {"field": "m", "type": "nominal", "scale": {"domain": ["HSJA", "EA", "Sign-OPT", "QEBA-S", "QEBA-F", "QEBA-I", "NLBA-AE", "NLBA-VAE", "PSBA"], "range": [[4.5, 2.2], [8, 2.5, 1.5, 2.5], [8, 2.5, 1.5, 2.5], [8, 2.5, 1.5, 2.5], [8, 2.5, 1.5, 2.5], [8, 2.5, 1.5, 2.5], [8, 2.5, 1.5, 2.5], [8, 2.5, 1.5, 2.5], [1, 0]]}, "legend": null}
   }},
  {"width": 276, "height": 263, "data": {"name": "b1"}, "mark": {"type": "line", "strokeWidth": 1.4},
   "encoding": {
    "x": {"field": "q", "type": "quantitative", "scale": {"domain": [0, 10], "nice": false}, "axis": {"values": [0, 2, 4, 6, 8, 10], "labelExpr": "datum.value == 0 ? '0' : datum.value + 'K'", "title": "(b) CIFAR10 # Queries", "titlePadding": 3.5}},
    "y": {"field": "r", "type": "quantitative", "scale": {"domain": [0, 1], "nice": false}, "axis": {"values": [0, 0.2, 0.4, 0.6, 0.8, 1], "format": ".1f", "title": null}},
    "color": {"field": "m", "type": "nominal", "scale": {"domain": ["HSJA", "EA", "Sign-OPT", "QEBA-S", "QEBA-F", "QEBA-I", "NLBA-AE", "NLBA-VAE", "PSBA"], "range": ["#000000", "#e377c2", "#bcbd22", "#d62728", "#ff7f0e", "#2ca02c", "#1f77b4", "#8c564b", "#6a1cc0"]}, "legend": null},
    "strokeDash": {"field": "m", "type": "nominal", "scale": {"domain": ["HSJA", "EA", "Sign-OPT", "QEBA-S", "QEBA-F", "QEBA-I", "NLBA-AE", "NLBA-VAE", "PSBA"], "range": [[4.5, 2.2], [8, 2.5, 1.5, 2.5], [8, 2.5, 1.5, 2.5], [8, 2.5, 1.5, 2.5], [8, 2.5, 1.5, 2.5], [8, 2.5, 1.5, 2.5], [8, 2.5, 1.5, 2.5], [8, 2.5, 1.5, 2.5], [1, 0]]}, "legend": null}
   }},
  {"width": 276, "height": 263, "data": {"name": "c1"}, "mark": {"type": "line", "strokeWidth": 1.4},
   "encoding": {
    "x": {"field": "q", "type": "quantitative", "scale": {"domain": [0, 10], "nice": false}, "axis": {"values": [0, 2, 4, 6, 8, 10], "labelExpr": "datum.value == 0 ? '0' : datum.value + 'K'", "title": "(c) CelebA # Queries", "titlePadding": 3.5}},
    "y": {"field": "r", "type": "quantitative", "scale": {"domain": [0, 1], "nice": false}, "axis": {"values": [0, 0.2, 0.4, 0.6, 0.8, 1], "format": ".1f", "title": null}},
    "color": {"field": "m", "type": "nominal", "scale": {"domain": ["HSJA", "EA", "Sign-OPT", "QEBA-S", "QEBA-F", "QEBA-I", "NLBA-AE", "NLBA-VAE", "PSBA"], "range": ["#000000", "#e377c2", "#bcbd22", "#d62728", "#ff7f0e", "#2ca02c", "#1f77b4", "#8c564b", "#6a1cc0"]}, "legend": null},
    "strokeDash": {"field": "m", "type": "nominal", "scale": {"domain": ["HSJA", "EA", "Sign-OPT", "QEBA-S", "QEBA-F", "QEBA-I", "NLBA-AE", "NLBA-VAE", "PSBA"], "range": [[4.5, 2.2], [8, 2.5, 1.5, 2.5], [8, 2.5, 1.5, 2.5], [8, 2.5, 1.5, 2.5], [8, 2.5, 1.5, 2.5], [8, 2.5, 1.5, 2.5], [8, 2.5, 1.5, 2.5], [8, 2.5, 1.5, 2.5], [1, 0]]}, "legend": null}
   }},
  {"width": 276, "height": 263, "data": {"name": "d1"}, "mark": {"type": "line", "strokeWidth": 1.4},
   "encoding": {
    "x": {"field": "q", "type": "quantitative", "scale": {"domain": [0, 10], "nice": false}, "axis": {"values": [0, 2, 4, 6, 8, 10], "labelExpr": "datum.value == 0 ? '0' : datum.value + 'K'", "title": "(d) ImageNet # Queries", "titlePadding": 3.5}},
    "y": {"field": "r", "type": "quantitative", "scale": {"domain": [0, 1], "nice": false}, "axis": {"values": [0, 0.2, 0.4, 0.6, 0.8, 1], "format": ".1f", "title": null}},
    "color": {"field": "m", "type": "nominal", "scale": {"domain": ["HSJA", "EA", "Sign-OPT", "QEBA-S", "QEBA-F", "QEBA-I", "NLBA-AE", "NLBA-VAE", "PSBA"], "range": ["#000000", "#e377c2", "#bcbd22", "#d62728", "#ff7f0e", "#2ca02c", "#1f77b4", "#8c564b", "#6a1cc0"]}, "legend": {"orient": "none", "legendX": 295, "legendY": 0, "symbolType": "M-2,0H2", "symbolSize": 306, "symbolStrokeWidth": 1.4, "symbolOffset": 7, "labelOffset": 30, "rowPadding": 6.8, "padding": 7}},
    "strokeDash": {"field": "m", "type": "nominal", "scale": {"domain": ["HSJA", "EA", "Sign-OPT", "QEBA-S", "QEBA-F", "QEBA-I", "NLBA-AE", "NLBA-VAE", "PSBA"], "range": [[4.5, 2.2], [8, 2.5, 1.5, 2.5], [8, 2.5, 1.5, 2.5], [8, 2.5, 1.5, 2.5], [8, 2.5, 1.5, 2.5], [8, 2.5, 1.5, 2.5], [8, 2.5, 1.5, 2.5], [8, 2.5, 1.5, 2.5], [1, 0]]}, "legend": {"orient": "none", "legendX": 295, "legendY": 0, "symbolType": "M-2,0H2", "symbolSize": 306, "symbolStrokeWidth": 1.4, "symbolOffset": 7, "labelOffset": 30, "rowPadding": 6.8, "padding": 7}}
   }}
 ],
 "bounds": "flush",
 "spacing": 55.4,
 "resolve": {"legend": {"color": "independent", "strokeDash": "independent"}}
},
{
 "hconcat": [
  {"width": 1, "height": 263, "data": {"values": []}, "mark": {"type": "point"}, "encoding": {}, "view": {"stroke": null}},
  {"width": 276, "height": 263, "data": {"name": "a2"}, "mark": {"type": "line", "strokeWidth": 1.4},
   "encoding": {
    "x": {"field": "q", "type": "quantitative", "scale": {"domain": [0, 10], "nice": false}, "axis": {"values": [0, 2, 4, 6, 8, 10], "labelExpr": "datum.value == 0 ? '0' : datum.value + 'K'", "title": "(a) MNIST # Queries", "titlePadding": 3.5}},
    "y": {"field": "r", "type": "quantitative", "scale": {"domain": [0, 1], "nice": false}, "axis": {"values": [0, 0.2, 0.4, 0.6, 0.8, 1], "format": ".1f", "title": "Attack Success Rate", "titlePadding": 4.9}},
    "color": {"field": "m", "type": "nominal", "scale": {"domain": ["HSJA", "EA", "Sign-OPT", "QEBA-S", "QEBA-F", "QEBA-I", "NLBA-AE", "NLBA-VAE", "PSBA"], "range": ["#000000", "#e377c2", "#bcbd22", "#d62728", "#ff7f0e", "#2ca02c", "#1f77b4", "#8c564b", "#6a1cc0"]}, "legend": null},
    "strokeDash": {"field": "m", "type": "nominal", "scale": {"domain": ["HSJA", "EA", "Sign-OPT", "QEBA-S", "QEBA-F", "QEBA-I", "NLBA-AE", "NLBA-VAE", "PSBA"], "range": [[4.5, 2.2], [8, 2.5, 1.5, 2.5], [8, 2.5, 1.5, 2.5], [8, 2.5, 1.5, 2.5], [8, 2.5, 1.5, 2.5], [8, 2.5, 1.5, 2.5], [8, 2.5, 1.5, 2.5], [8, 2.5, 1.5, 2.5], [1, 0]]}, "legend": null}
   }},
  {"width": 276, "height": 263, "data": {"name": "b2"}, "mark": {"type": "line", "strokeWidth": 1.4},
   "encoding": {
    "x": {"field": "q", "type": "quantitative", "scale": {"domain": [0, 10], "nice": false}, "axis": {"values": [0, 2, 4, 6, 8, 10], "labelExpr": "datum.value == 0 ? '0' : datum.value + 'K'", "title": "(b) CIFAR10 # Queries", "titlePadding": 3.5}},
    "y": {"field": "r", "type": "quantitative", "scale": {"domain": [0, 1], "nice": false}, "axis": {"values": [0, 0.2, 0.4, 0.6, 0.8, 1], "format": ".1f", "title": null}},
    "color": {"field": "m", "type": "nominal", "scale": {"domain": ["HSJA", "EA", "Sign-OPT", "QEBA-S", "QEBA-F", "QEBA-I", "NLBA-AE", "NLBA-VAE", "PSBA"], "range": ["#000000", "#e377c2", "#bcbd22", "#d62728", "#ff7f0e", "#2ca02c", "#1f77b4", "#8c564b", "#6a1cc0"]}, "legend": null},
    "strokeDash": {"field": "m", "type": "nominal", "scale": {"domain": ["HSJA", "EA", "Sign-OPT", "QEBA-S", "QEBA-F", "QEBA-I", "NLBA-AE", "NLBA-VAE", "PSBA"], "range": [[4.5, 2.2], [8, 2.5, 1.5, 2.5], [8, 2.5, 1.5, 2.5], [8, 2.5, 1.5, 2.5], [8, 2.5, 1.5, 2.5], [8, 2.5, 1.5, 2.5], [8, 2.5, 1.5, 2.5], [8, 2.5, 1.5, 2.5], [1, 0]]}, "legend": null}
   }},
  {"width": 276, "height": 263, "data": {"name": "c2"}, "mark": {"type": "line", "strokeWidth": 1.4},
   "encoding": {
    "x": {"field": "q", "type": "quantitative", "scale": {"domain": [0, 10], "nice": false}, "axis": {"values": [0, 2, 4, 6, 8, 10], "labelExpr": "datum.value == 0 ? '0' : datum.value + 'K'", "title": "(c) CelebA # Queries", "titlePadding": 3.5}},
    "y": {"field": "r", "type": "quantitative", "scale": {"domain": [0, 1], "nice": false}, "axis": {"values": [0, 0.2, 0.4, 0.6, 0.8, 1], "format": ".1f", "title": null}},
    "color": {"field": "m", "type": "nominal", "scale": {"domain": ["HSJA", "EA", "Sign-OPT", "QEBA-S", "QEBA-F", "QEBA-I", "NLBA-AE", "NLBA-VAE", "PSBA"], "range": ["#000000", "#e377c2", "#bcbd22", "#d62728", "#ff7f0e", "#2ca02c", "#1f77b4", "#8c564b", "#6a1cc0"]}, "legend": null},
    "strokeDash": {"field": "m", "type": "nominal", "scale": {"domain": ["HSJA", "EA", "Sign-OPT", "QEBA-S", "QEBA-F", "QEBA-I", "NLBA-AE", "NLBA-VAE", "PSBA"], "range": [[4.5, 2.2], [8, 2.5, 1.5, 2.5], [8, 2.5, 1.5, 2.5], [8, 2.5, 1.5, 2.5], [8, 2.5, 1.5, 2.5], [8, 2.5, 1.5, 2.5], [8, 2.5, 1.5, 2.5], [8, 2.5, 1.5, 2.5], [1, 0]]}, "legend": null}
   }},
  {"width": 276, "height": 263, "data": {"name": "d2"}, "mark": {"type": "line", "strokeWidth": 1.4},
   "encoding": {
    "x": {"field": "q", "type": "quantitative", "scale": {"domain": [0, 10], "nice": false}, "axis": {"values": [0, 2, 4, 6, 8, 10], "labelExpr": "datum.value == 0 ? '0' : datum.value + 'K'", "title": "(d) ImageNet # Queries", "titlePadding": 3.5}},
    "y": {"field": "r", "type": "quantitative", "scale": {"domain": [0, 1], "nice": false}, "axis": {"values": [0, 0.2, 0.4, 0.6, 0.8, 1], "format": ".1f", "title": null}},
    "color": {"field": "m", "type": "nominal", "scale": {"domain": ["HSJA", "EA", "Sign-OPT", "QEBA-S", "QEBA-F", "QEBA-I", "NLBA-AE", "NLBA-VAE", "PSBA"], "range": ["#000000", "#e377c2", "#bcbd22", "#d62728", "#ff7f0e", "#2ca02c", "#1f77b4", "#8c564b", "#6a1cc0"]}, "legend": {"orient": "none", "legendX": 299, "legendY": -2, "symbolType": "M-2,0H2", "symbolSize": 306, "symbolStrokeWidth": 1.4, "symbolOffset": 7, "labelOffset": 30, "rowPadding": 6.8, "padding": 7}},
    "strokeDash": {"field": "m", "type": "nominal", "scale": {"domain": ["HSJA", "EA", "Sign-OPT", "QEBA-S", "QEBA-F", "QEBA-I", "NLBA-AE", "NLBA-VAE", "PSBA"], "range": [[4.5, 2.2], [8, 2.5, 1.5, 2.5], [8, 2.5, 1.5, 2.5], [8, 2.5, 1.5, 2.5], [8, 2.5, 1.5, 2.5], [8, 2.5, 1.5, 2.5], [8, 2.5, 1.5, 2.5], [8, 2.5, 1.5, 2.5], [1, 0]]}, "legend": {"orient": "none", "legendX": 299, "legendY": -2, "symbolType": "M-2,0H2", "symbolSize": 306, "symbolStrokeWidth": 1.4, "symbolOffset": 7, "labelOffset": 30, "rowPadding": 6.8, "padding": 7}}
   }}
 ],
 "bounds": "flush",
 "spacing": 55.4,
 "resolve": {"legend": {"color": "independent", "strokeDash": "independent"}}
}
]
}
